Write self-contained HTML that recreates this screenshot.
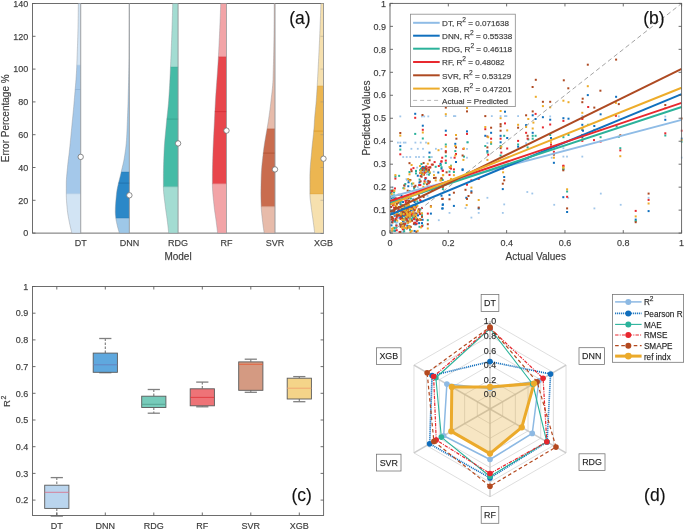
<!DOCTYPE html>
<html><head><meta charset="utf-8"><title>Model comparison figure</title>
<style>html,body{margin:0;padding:0;background:#fff;}svg{display:block;font-family:"Liberation Sans", sans-serif;filter:blur(0.25px);}text{paint-order:stroke;stroke-width:0.25px;stroke:#333;stroke-opacity:0.6;}</style>
</head><body>
<svg width="685" height="529" viewBox="0 0 685 529">
<rect width="685" height="529" fill="#fff"/>
<g id="pa">
<rect x="32.5" y="3.5" width="291.0" height="229.6" fill="none" stroke="#5e5e5e" stroke-width="0.9"/>
<line x1="32.5" y1="233.1" x2="35.5" y2="233.1" stroke="#5e5e5e" stroke-width="0.9"/>
<line x1="323.5" y1="233.1" x2="320.5" y2="233.1" stroke="#5e5e5e" stroke-width="0.9"/>
<text x="28.3" y="236.3" font-size="9.0" text-anchor="end" fill="#3a3a3a" >0</text>
<line x1="32.5" y1="200.3" x2="35.5" y2="200.3" stroke="#5e5e5e" stroke-width="0.9"/>
<line x1="323.5" y1="200.3" x2="320.5" y2="200.3" stroke="#5e5e5e" stroke-width="0.9"/>
<text x="28.3" y="203.5" font-size="9.0" text-anchor="end" fill="#3a3a3a" >20</text>
<line x1="32.5" y1="167.5" x2="35.5" y2="167.5" stroke="#5e5e5e" stroke-width="0.9"/>
<line x1="323.5" y1="167.5" x2="320.5" y2="167.5" stroke="#5e5e5e" stroke-width="0.9"/>
<text x="28.3" y="170.7" font-size="9.0" text-anchor="end" fill="#3a3a3a" >40</text>
<line x1="32.5" y1="134.7" x2="35.5" y2="134.7" stroke="#5e5e5e" stroke-width="0.9"/>
<line x1="323.5" y1="134.7" x2="320.5" y2="134.7" stroke="#5e5e5e" stroke-width="0.9"/>
<text x="28.3" y="137.9" font-size="9.0" text-anchor="end" fill="#3a3a3a" >60</text>
<line x1="32.5" y1="101.9" x2="35.5" y2="101.9" stroke="#5e5e5e" stroke-width="0.9"/>
<line x1="323.5" y1="101.9" x2="320.5" y2="101.9" stroke="#5e5e5e" stroke-width="0.9"/>
<text x="28.3" y="105.1" font-size="9.0" text-anchor="end" fill="#3a3a3a" >80</text>
<line x1="32.5" y1="69.1" x2="35.5" y2="69.1" stroke="#5e5e5e" stroke-width="0.9"/>
<line x1="323.5" y1="69.1" x2="320.5" y2="69.1" stroke="#5e5e5e" stroke-width="0.9"/>
<text x="28.3" y="72.3" font-size="9.0" text-anchor="end" fill="#3a3a3a" >100</text>
<line x1="32.5" y1="36.3" x2="35.5" y2="36.3" stroke="#5e5e5e" stroke-width="0.9"/>
<line x1="323.5" y1="36.3" x2="320.5" y2="36.3" stroke="#5e5e5e" stroke-width="0.9"/>
<text x="28.3" y="39.5" font-size="9.0" text-anchor="end" fill="#3a3a3a" >120</text>
<line x1="32.5" y1="3.5" x2="35.5" y2="3.5" stroke="#5e5e5e" stroke-width="0.9"/>
<line x1="323.5" y1="3.5" x2="320.5" y2="3.5" stroke="#5e5e5e" stroke-width="0.9"/>
<text x="28.3" y="6.7" font-size="9.0" text-anchor="end" fill="#3a3a3a" >140</text>
<polygon points="80.7,3.5 78.3,3.5 78.3,4.97 78.3,6.44 78.29,7.91 78.28,9.38 78.27,10.85 78.26,12.31 78.24,13.78 78.23,15.25 78.21,16.72 78.19,18.19 78.16,19.66 78.14,21.13 78.11,22.6 78.09,24.07 78.06,25.54 78.02,27 77.99,28.47 77.96,29.94 77.92,31.41 77.88,32.88 77.84,34.35 77.8,35.82 77.76,37.29 77.72,38.76 77.68,40.23 77.63,41.7 77.58,43.16 77.54,44.63 77.49,46.1 77.44,47.57 77.39,49.04 77.34,50.51 77.29,51.98 77.24,53.45 77.18,54.92 77.13,56.39 77.08,57.85 77.02,59.32 76.97,60.79 76.91,62.26 76.86,63.73 76.8,65.2 80.7,65.2" fill="#D2E4F4" stroke="none"/>
<polygon points="80.7,65.2 76.8,65.2 76.74,66.69 76.67,68.19 76.6,69.68 76.52,71.18 76.43,72.67 76.34,74.17 76.24,75.66 76.14,77.15 76.04,78.65 75.93,80.14 75.82,81.64 75.7,83.13 75.58,84.62 75.46,86.12 75.34,87.61 75.21,89.11 75.09,90.6 74.96,92.1 74.84,93.59 74.71,95.08 74.58,96.58 74.46,98.07 74.34,99.57 74.21,101.06 74.08,102.55 73.95,104.05 73.82,105.54 73.68,107.04 73.55,108.53 73.41,110.03 73.26,111.52 73.12,113.01 72.97,114.51 72.83,116 72.68,117.5 72.53,118.99 72.39,120.48 72.24,121.98 72.1,123.47 71.95,124.97 71.81,126.46 71.67,127.96 71.52,129.45 71.38,130.94 71.24,132.44 71.1,133.93 70.96,135.43 70.81,136.92 70.67,138.42 70.53,139.91 70.38,141.4 70.23,142.9 70.08,144.39 69.93,145.89 69.78,147.38 69.63,148.87 69.47,150.37 69.31,151.86 69.13,153.36 68.95,154.85 68.76,156.35 68.58,157.84 68.39,159.33 68.2,160.83 68.03,162.32 67.86,163.82 67.7,165.31 67.56,166.8 67.42,168.3 67.28,169.79 67.13,171.29 66.98,172.78 66.84,174.28 66.71,175.77 66.59,177.26 66.49,178.76 66.4,180.25 66.34,181.75 66.31,183.24 66.3,184.73 66.3,186.23 66.3,187.72 66.3,189.22 66.3,190.71 66.3,192.21 66.3,193.7 80.7,193.7" fill="#A4C8EA" stroke="none"/>
<polygon points="80.7,193.7 66.3,193.7 66.3,195.16 66.33,196.62 66.38,198.08 66.45,199.54 66.54,201 66.64,202.46 66.76,203.91 66.89,205.37 67.02,206.83 67.16,208.29 67.3,209.75 67.45,211.21 67.64,212.67 67.85,214.13 68.09,215.59 68.35,217.05 68.62,218.51 68.9,219.97 69.19,221.43 69.48,222.89 69.78,224.34 70.09,225.8 70.43,227.26 70.78,228.72 71.14,230.18 71.51,231.64 71.9,233.1 80.7,233.1" fill="#D2E4F4" stroke="none"/>
<polygon points="80.7,3.5 78.3,3.5 78.3,4.99 78.3,6.48 78.29,7.97 78.28,9.46 78.27,10.95 78.26,12.45 78.24,13.94 78.22,15.43 78.2,16.92 78.18,18.41 78.16,19.9 78.14,21.39 78.11,22.88 78.08,24.37 78.05,25.86 78.02,27.35 77.98,28.85 77.95,30.34 77.91,31.83 77.87,33.32 77.83,34.81 77.79,36.3 77.75,37.79 77.7,39.28 77.66,40.77 77.61,42.26 77.57,43.75 77.52,45.25 77.47,46.74 77.42,48.23 77.37,49.72 77.31,51.21 77.26,52.7 77.21,54.19 77.16,55.68 77.1,57.17 77.05,58.66 76.99,60.15 76.93,61.65 76.88,63.14 76.82,64.63 76.76,66.12 76.7,67.61 76.63,69.1 76.55,70.59 76.47,72.08 76.38,73.57 76.28,75.06 76.18,76.55 76.08,78.05 75.97,79.54 75.86,81.03 75.75,82.52 75.63,84.01 75.51,85.5 75.39,86.99 75.27,88.48 75.14,89.97 75.02,91.46 74.89,92.95 74.76,94.45 74.64,95.94 74.51,97.43 74.39,98.92 74.27,100.41 74.14,101.9 74.01,103.39 73.88,104.88 73.75,106.37 73.61,107.86 73.47,109.35 73.33,110.85 73.18,112.34 73.04,113.83 72.89,115.32 72.75,116.81 72.6,118.3 72.46,119.79 72.31,121.28 72.16,122.77 72.02,124.26 71.88,125.75 71.73,127.25 71.59,128.74 71.45,130.23 71.31,131.72 71.17,133.21 71.03,134.7 70.88,136.19 70.74,137.68 70.6,139.17 70.45,140.66 70.31,142.15 70.16,143.65 70.01,145.14 69.86,146.63 69.7,148.12 69.55,149.61 69.39,151.1 69.22,152.59 69.05,154.08 68.86,155.57 68.67,157.06 68.49,158.55 68.3,160.05 68.12,161.54 67.95,163.03 67.78,164.52 67.64,166.01 67.5,167.5 67.35,168.99 67.21,170.48 67.06,171.97 66.92,173.46 66.78,174.95 66.65,176.45 66.54,177.94 66.45,179.43 66.37,180.92 66.32,182.41 66.3,183.9 66.3,185.39 66.3,186.88 66.3,188.37 66.3,189.86 66.3,191.35 66.3,192.85 66.3,194.34 66.31,195.83 66.35,197.32 66.41,198.81 66.49,200.3 66.59,201.79 66.71,203.28 66.83,204.77 66.97,206.26 67.11,207.75 67.25,209.25 67.4,210.74 67.58,212.23 67.79,213.72 68.03,215.21 68.29,216.7 68.56,218.19 68.85,219.68 69.14,221.17 69.43,222.66 69.74,224.15 70.06,225.65 70.4,227.14 70.75,228.63 71.12,230.12 71.51,231.61 71.9,233.1 80.7,233.1" fill="none" stroke="#8a8f96" stroke-width="0.6" stroke-opacity="0.7"/>
<line x1="76.8" y1="65.2" x2="80.7" y2="65.2" stroke="#8FB3D6" stroke-width="0.6" stroke-opacity="0.6"/>
<line x1="66.3" y1="193.7" x2="80.7" y2="193.7" stroke="#8FB3D6" stroke-width="0.6" stroke-opacity="0.6"/>
<line x1="75.18" y1="89.5" x2="80.7" y2="89.5" stroke="#8FB3D6" stroke-width="0.8"/>
<line x1="80.7" y1="3.5" x2="80.7" y2="233.1" stroke="#9a9a9a" stroke-width="0.65"/>
<polygon points="129.4,3.5 129.2,3.5 129.2,4.99 129.2,6.48 129.2,7.97 129.2,9.46 129.19,10.96 129.19,12.45 129.19,13.94 129.19,15.43 129.18,16.92 129.18,18.41 129.18,19.9 129.17,21.39 129.17,22.88 129.16,24.38 129.16,25.87 129.15,27.36 129.15,28.85 129.14,30.34 129.13,31.83 129.13,33.32 129.12,34.81 129.11,36.31 129.11,37.8 129.1,39.29 129.09,40.78 129.08,42.27 129.07,43.76 129.07,45.25 129.06,46.74 129.05,48.23 129.04,49.73 129.03,51.22 129.02,52.71 129.01,54.2 129,55.69 128.99,57.18 128.98,58.67 128.96,60.16 128.95,61.65 128.93,63.15 128.91,64.64 128.89,66.13 128.86,67.62 128.84,69.11 128.81,70.6 128.78,72.09 128.75,73.58 128.72,75.08 128.69,76.57 128.66,78.06 128.63,79.55 128.59,81.04 128.56,82.53 128.52,84.02 128.48,85.51 128.44,87 128.41,88.5 128.37,89.99 128.33,91.48 128.29,92.97 128.25,94.46 128.21,95.95 128.17,97.44 128.13,98.93 128.09,100.42 128.05,101.92 128,103.41 127.96,104.9 127.91,106.39 127.86,107.88 127.8,109.37 127.75,110.86 127.7,112.35 127.64,113.85 127.58,115.34 127.52,116.83 127.47,118.32 127.41,119.81 127.35,121.3 127.29,122.79 127.24,124.28 127.18,125.77 127.13,127.27 127.07,128.76 127.01,130.25 126.94,131.74 126.88,133.23 126.8,134.72 126.73,136.21 126.64,137.7 126.55,139.19 126.45,140.69 126.34,142.18 126.2,143.67 126.06,145.16 125.89,146.65 125.72,148.14 125.53,149.63 125.33,151.12 125.12,152.62 124.9,154.11 124.68,155.6 124.44,157.09 124.2,158.58 123.93,160.07 123.63,161.56 123.31,163.05 122.96,164.54 122.6,166.04 122.24,167.53 121.89,169.02 121.54,170.51 121.2,172 129.4,172" fill="#9EC8E8" stroke="none"/>
<polygon points="129.4,172 121.2,172 120.87,173.49 120.51,174.97 120.15,176.46 119.78,177.95 119.4,179.44 119.03,180.92 118.66,182.41 118.3,183.9 117.96,185.38 117.63,186.87 117.33,188.36 117.06,189.85 116.82,191.33 116.62,192.82 116.46,194.31 116.31,195.79 116.17,197.28 116.03,198.77 115.89,200.25 115.77,201.74 115.65,203.23 115.55,204.72 115.46,206.2 115.39,207.69 115.34,209.18 115.31,210.66 115.3,212.15 115.36,213.64 115.48,215.13 115.64,216.61 115.81,218.1 129.4,218.1" fill="#2B88C8" stroke="none"/>
<polygon points="129.4,218.1 115.81,218.1 116,219.46 116.24,220.83 116.52,222.19 116.81,223.55 117.12,224.92 117.44,226.28 117.79,227.65 118.16,229.01 118.55,230.37 118.96,231.74 119.4,233.1 129.4,233.1" fill="#9EC8E8" stroke="none"/>
<polygon points="129.4,3.5 129.2,3.5 129.2,4.99 129.2,6.48 129.2,7.97 129.2,9.46 129.2,10.95 129.19,12.45 129.19,13.94 129.19,15.43 129.18,16.92 129.18,18.41 129.18,19.9 129.17,21.39 129.17,22.88 129.16,24.37 129.16,25.86 129.15,27.35 129.15,28.85 129.14,30.34 129.13,31.83 129.13,33.32 129.12,34.81 129.11,36.3 129.11,37.79 129.1,39.28 129.09,40.77 129.08,42.26 129.07,43.75 129.07,45.25 129.06,46.74 129.05,48.23 129.04,49.72 129.03,51.21 129.02,52.7 129.01,54.19 129,55.68 128.99,57.17 128.98,58.66 128.96,60.15 128.95,61.65 128.93,63.14 128.91,64.63 128.89,66.12 128.86,67.61 128.84,69.1 128.81,70.59 128.78,72.08 128.75,73.57 128.72,75.06 128.69,76.55 128.66,78.05 128.63,79.54 128.59,81.03 128.56,82.52 128.52,84.01 128.48,85.5 128.44,86.99 128.41,88.48 128.37,89.97 128.33,91.46 128.29,92.95 128.25,94.45 128.21,95.94 128.17,97.43 128.13,98.92 128.09,100.41 128.05,101.9 128,103.39 127.96,104.88 127.91,106.37 127.86,107.86 127.8,109.35 127.75,110.85 127.7,112.34 127.64,113.83 127.58,115.32 127.53,116.81 127.47,118.3 127.41,119.79 127.35,121.28 127.29,122.77 127.24,124.26 127.18,125.75 127.13,127.25 127.07,128.74 127.01,130.23 126.94,131.72 126.88,133.21 126.81,134.7 126.73,136.19 126.64,137.68 126.55,139.17 126.45,140.66 126.34,142.15 126.21,143.65 126.06,145.14 125.9,146.63 125.72,148.12 125.53,149.61 125.33,151.1 125.12,152.59 124.91,154.08 124.68,155.57 124.45,157.06 124.21,158.55 123.94,160.05 123.64,161.54 123.31,163.03 122.97,164.52 122.61,166.01 122.25,167.5 121.89,168.99 121.54,170.48 121.21,171.97 120.87,173.46 120.52,174.95 120.15,176.45 119.78,177.94 119.4,179.43 119.03,180.92 118.66,182.41 118.3,183.9 117.95,185.39 117.63,186.88 117.33,188.37 117.06,189.86 116.82,191.35 116.62,192.85 116.46,194.34 116.31,195.83 116.16,197.32 116.02,198.81 115.89,200.3 115.76,201.79 115.65,203.28 115.54,204.77 115.46,206.26 115.39,207.75 115.34,209.25 115.31,210.74 115.3,212.23 115.36,213.72 115.49,215.21 115.65,216.7 115.82,218.19 116.04,219.68 116.31,221.17 116.62,222.66 116.95,224.15 117.29,225.65 117.65,227.14 118.05,228.63 118.48,230.12 118.93,231.61 119.4,233.1 129.4,233.1" fill="none" stroke="#8a8f96" stroke-width="0.6" stroke-opacity="0.7"/>
<line x1="121.2" y1="172" x2="129.4" y2="172" stroke="#1F6FA8" stroke-width="0.6" stroke-opacity="0.6"/>
<line x1="115.81" y1="218.1" x2="129.4" y2="218.1" stroke="#1F6FA8" stroke-width="0.6" stroke-opacity="0.6"/>
<line x1="118.49" y1="183.1" x2="129.4" y2="183.1" stroke="#1F6FA8" stroke-width="0.8"/>
<line x1="129.4" y1="3.5" x2="129.4" y2="233.1" stroke="#9a9a9a" stroke-width="0.65"/>
<polygon points="178.1,3.5 172.7,3.5 172.67,4.98 172.63,6.45 172.6,7.93 172.56,9.41 172.53,10.88 172.49,12.36 172.45,13.84 172.41,15.31 172.37,16.79 172.33,18.27 172.28,19.74 172.24,21.22 172.19,22.7 172.15,24.17 172.1,25.65 172.05,27.13 172,28.6 171.95,30.08 171.9,31.56 171.85,33.03 171.8,34.51 171.75,35.99 171.69,37.47 171.64,38.94 171.58,40.42 171.53,41.9 171.47,43.37 171.42,44.85 171.36,46.33 171.3,47.8 171.24,49.28 171.18,50.76 171.12,52.23 171.06,53.71 171,55.19 170.94,56.66 170.88,58.14 170.82,59.62 170.75,61.09 170.69,62.57 170.63,64.05 170.56,65.52 170.5,67 178.1,67" fill="#A3DCD2" stroke="none"/>
<polygon points="178.1,67 170.5,67 170.43,68.5 170.37,69.99 170.3,71.49 170.23,72.98 170.16,74.48 170.09,75.98 170.02,77.47 169.95,78.97 169.87,80.47 169.79,81.96 169.72,83.46 169.64,84.95 169.55,86.45 169.47,87.95 169.38,89.44 169.29,90.94 169.2,92.44 169.11,93.93 169.01,95.43 168.91,96.92 168.81,98.42 168.71,99.92 168.59,101.41 168.47,102.91 168.34,104.41 168.21,105.9 168.06,107.4 167.91,108.89 167.76,110.39 167.6,111.89 167.44,113.38 167.28,114.88 167.12,116.38 166.96,117.87 166.8,119.37 166.65,120.86 166.5,122.36 166.35,123.86 166.21,125.35 166.08,126.85 165.94,128.35 165.8,129.84 165.65,131.34 165.51,132.83 165.36,134.33 165.22,135.83 165.08,137.32 164.94,138.82 164.81,140.32 164.69,141.81 164.57,143.31 164.46,144.81 164.35,146.3 164.26,147.8 164.18,149.29 164.11,150.79 164.05,152.29 163.99,153.78 163.93,155.28 163.87,156.77 163.81,158.27 163.75,159.77 163.7,161.26 163.65,162.76 163.6,164.26 163.56,165.75 163.52,167.25 163.49,168.75 163.46,170.24 163.43,171.74 163.42,173.23 163.4,174.73 163.4,176.23 163.4,177.72 163.4,179.22 163.4,180.71 163.4,182.21 163.4,183.71 163.4,185.2 163.4,186.7 178.1,186.7" fill="#45BBA6" stroke="none"/>
<polygon points="178.1,186.7 163.4,186.7 163.42,188.2 163.47,189.69 163.56,191.19 163.67,192.69 163.81,194.18 163.97,195.68 164.14,197.18 164.33,198.67 164.52,200.17 164.72,201.67 164.92,203.16 165.11,204.66 165.3,206.16 165.48,207.65 165.67,209.15 165.87,210.65 166.09,212.15 166.31,213.64 166.53,215.14 166.74,216.64 166.95,218.13 167.15,219.63 167.34,221.13 167.52,222.62 167.7,224.12 167.88,225.62 168.05,227.11 168.22,228.61 168.38,230.11 168.54,231.6 168.7,233.1 178.1,233.1" fill="#A3DCD2" stroke="none"/>
<polygon points="178.1,3.5 172.7,3.5 172.67,4.99 172.63,6.48 172.6,7.97 172.56,9.46 172.52,10.95 172.49,12.45 172.45,13.94 172.41,15.43 172.36,16.92 172.32,18.41 172.28,19.9 172.23,21.39 172.19,22.88 172.14,24.37 172.09,25.86 172.04,27.35 171.99,28.85 171.94,30.34 171.89,31.83 171.84,33.32 171.79,34.81 171.74,36.3 171.68,37.79 171.63,39.28 171.57,40.77 171.51,42.26 171.46,43.75 171.4,45.25 171.34,46.74 171.28,48.23 171.22,49.72 171.16,51.21 171.1,52.7 171.04,54.19 170.98,55.68 170.92,57.17 170.86,58.66 170.79,60.15 170.73,61.65 170.67,63.14 170.6,64.63 170.54,66.12 170.47,67.61 170.41,69.1 170.34,70.59 170.27,72.08 170.21,73.57 170.14,75.06 170.06,76.55 169.99,78.05 169.92,79.54 169.84,81.03 169.77,82.52 169.69,84.01 169.61,85.5 169.52,86.99 169.44,88.48 169.35,89.97 169.26,91.46 169.17,92.95 169.07,94.45 168.98,95.94 168.88,97.43 168.78,98.92 168.67,100.41 168.56,101.9 168.43,103.39 168.3,104.88 168.16,106.37 168.02,107.86 167.87,109.35 167.71,110.85 167.55,112.34 167.39,113.83 167.23,115.32 167.07,116.81 166.91,118.3 166.76,119.79 166.6,121.28 166.46,122.77 166.31,124.26 166.18,125.75 166.04,127.25 165.9,128.74 165.76,130.23 165.62,131.72 165.47,133.21 165.33,134.7 165.19,136.19 165.05,137.68 164.91,139.17 164.78,140.66 164.66,142.15 164.54,143.65 164.43,145.14 164.33,146.63 164.24,148.12 164.16,149.61 164.1,151.1 164.03,152.59 163.97,154.08 163.91,155.57 163.86,157.06 163.8,158.55 163.74,160.05 163.69,161.54 163.64,163.03 163.6,164.52 163.55,166.01 163.52,167.5 163.48,168.99 163.45,170.48 163.43,171.97 163.41,173.46 163.4,174.95 163.4,176.45 163.4,177.94 163.4,179.43 163.4,180.92 163.4,182.41 163.4,183.9 163.4,185.39 163.4,186.88 163.42,188.37 163.48,189.86 163.57,191.35 163.69,192.85 163.83,194.34 163.99,195.83 164.16,197.32 164.35,198.81 164.54,200.3 164.74,201.79 164.93,203.28 165.13,204.77 165.31,206.26 165.49,207.75 165.68,209.25 165.89,210.74 166.1,212.23 166.32,213.72 166.54,215.21 166.75,216.7 166.96,218.19 167.16,219.68 167.35,221.17 167.53,222.66 167.71,224.15 167.88,225.65 168.05,227.14 168.22,228.63 168.39,230.12 168.54,231.61 168.7,233.1 178.1,233.1" fill="none" stroke="#8a8f96" stroke-width="0.6" stroke-opacity="0.7"/>
<line x1="170.5" y1="67" x2="178.1" y2="67" stroke="#36A08C" stroke-width="0.6" stroke-opacity="0.6"/>
<line x1="163.4" y1="186.7" x2="178.1" y2="186.7" stroke="#36A08C" stroke-width="0.6" stroke-opacity="0.6"/>
<line x1="166.83" y1="119.1" x2="178.1" y2="119.1" stroke="#36A08C" stroke-width="0.8"/>
<line x1="178.1" y1="3.5" x2="178.1" y2="233.1" stroke="#9a9a9a" stroke-width="0.65"/>
<polygon points="226.5,3.5 220.7,3.5 220.66,4.98 220.61,6.46 220.56,7.94 220.51,9.42 220.46,10.9 220.41,12.38 220.36,13.86 220.3,15.34 220.25,16.82 220.19,18.31 220.14,19.79 220.08,21.27 220.02,22.75 219.96,24.23 219.89,25.71 219.83,27.19 219.77,28.67 219.7,30.15 219.64,31.63 219.57,33.11 219.5,34.59 219.44,36.07 219.37,37.55 219.3,39.03 219.23,40.51 219.15,41.99 219.08,43.47 219.01,44.96 218.93,46.44 218.86,47.92 218.78,49.4 218.71,50.88 218.63,52.36 218.56,53.84 218.48,55.32 218.4,56.8 226.5,56.8" fill="#F2A4A7" stroke="none"/>
<polygon points="226.5,56.8 218.4,56.8 218.32,58.29 218.23,59.79 218.15,61.28 218.06,62.77 217.96,64.26 217.86,65.76 217.76,67.25 217.66,68.74 217.56,70.24 217.46,71.73 217.35,73.22 217.24,74.72 217.13,76.21 217.02,77.7 216.92,79.19 216.81,80.69 216.7,82.18 216.59,83.67 216.48,85.17 216.37,86.66 216.27,88.15 216.16,89.64 216.06,91.14 215.96,92.63 215.86,94.12 215.77,95.62 215.67,97.11 215.58,98.6 215.49,100.1 215.41,101.59 215.33,103.08 215.25,104.57 215.17,106.07 215.09,107.56 215.01,109.05 214.93,110.55 214.86,112.04 214.78,113.53 214.71,115.02 214.64,116.52 214.56,118.01 214.49,119.5 214.42,121 214.35,122.49 214.27,123.98 214.2,125.48 214.13,126.97 214.05,128.46 213.97,129.95 213.9,131.45 213.82,132.94 213.74,134.43 213.66,135.93 213.59,137.42 213.51,138.91 213.44,140.4 213.37,141.9 213.3,143.39 213.23,144.88 213.17,146.38 213.11,147.87 213.05,149.36 213,150.86 212.96,152.35 212.91,153.84 212.86,155.33 212.81,156.83 212.76,158.32 212.72,159.81 212.67,161.31 212.63,162.8 212.59,164.29 212.55,165.78 212.51,167.28 212.48,168.77 212.45,170.26 212.43,171.76 212.42,173.25 212.4,174.74 212.4,176.24 212.4,177.73 212.4,179.22 212.4,180.71 212.4,182.21 212.4,183.7 226.5,183.7" fill="#E8464C" stroke="none"/>
<polygon points="226.5,183.7 212.4,183.7 212.41,185.2 212.45,186.69 212.5,188.19 212.58,189.69 212.67,191.18 212.78,192.68 212.9,194.18 213.03,195.68 213.17,197.17 213.32,198.67 213.48,200.17 213.64,201.66 213.8,203.16 213.96,204.66 214.11,206.15 214.27,207.65 214.45,209.15 214.64,210.65 214.85,212.14 215.08,213.64 215.3,215.14 215.53,216.63 215.74,218.13 215.95,219.63 216.15,221.12 216.34,222.62 216.53,224.12 216.71,225.62 216.89,227.11 217.08,228.61 217.25,230.11 217.43,231.6 217.6,233.1 226.5,233.1" fill="#F2A4A7" stroke="none"/>
<polygon points="226.5,3.5 220.7,3.5 220.65,4.99 220.61,6.48 220.56,7.97 220.51,9.46 220.46,10.95 220.41,12.45 220.36,13.94 220.3,15.43 220.25,16.92 220.19,18.41 220.13,19.9 220.07,21.39 220.01,22.88 219.95,24.37 219.89,25.86 219.82,27.35 219.76,28.85 219.7,30.34 219.63,31.83 219.56,33.32 219.49,34.81 219.42,36.3 219.36,37.79 219.28,39.28 219.21,40.77 219.14,42.26 219.07,43.75 218.99,45.25 218.92,46.74 218.84,48.23 218.77,49.72 218.69,51.21 218.61,52.7 218.54,54.19 218.46,55.68 218.38,57.17 218.3,58.66 218.21,60.15 218.12,61.65 218.03,63.14 217.94,64.63 217.84,66.12 217.74,67.61 217.64,69.1 217.54,70.59 217.43,72.08 217.32,73.57 217.22,75.06 217.11,76.55 217,78.05 216.89,79.54 216.78,81.03 216.67,82.52 216.56,84.01 216.46,85.5 216.35,86.99 216.24,88.48 216.14,89.97 216.04,91.46 215.94,92.95 215.84,94.45 215.74,95.94 215.65,97.43 215.56,98.92 215.48,100.41 215.39,101.9 215.31,103.39 215.23,104.88 215.15,106.37 215.07,107.86 215,109.35 214.92,110.85 214.84,112.34 214.77,113.83 214.7,115.32 214.62,116.81 214.55,118.3 214.48,119.79 214.41,121.28 214.33,122.77 214.26,124.26 214.19,125.75 214.11,127.25 214.04,128.74 213.96,130.23 213.88,131.72 213.8,133.21 213.73,134.7 213.65,136.19 213.57,137.68 213.5,139.17 213.42,140.66 213.35,142.15 213.28,143.65 213.22,145.14 213.16,146.63 213.1,148.12 213.05,149.61 213,151.1 212.95,152.59 212.9,154.08 212.85,155.57 212.8,157.06 212.76,158.55 212.71,160.05 212.66,161.54 212.62,163.03 212.58,164.52 212.54,166.01 212.51,167.5 212.48,168.99 212.45,170.48 212.43,171.97 212.41,173.46 212.4,174.95 212.4,176.45 212.4,177.94 212.4,179.43 212.4,180.92 212.4,182.41 212.4,183.9 212.42,185.39 212.45,186.88 212.51,188.37 212.59,189.86 212.68,191.35 212.79,192.85 212.91,194.34 213.05,195.83 213.19,197.32 213.34,198.81 213.49,200.3 213.65,201.79 213.81,203.28 213.97,204.77 214.12,206.26 214.28,207.75 214.46,209.25 214.65,210.74 214.87,212.23 215.09,213.72 215.31,215.21 215.54,216.7 215.75,218.19 215.96,219.68 216.15,221.17 216.34,222.66 216.53,224.15 216.71,225.65 216.9,227.14 217.08,228.63 217.25,230.12 217.43,231.61 217.6,233.1 226.5,233.1" fill="none" stroke="#8a8f96" stroke-width="0.6" stroke-opacity="0.7"/>
<line x1="218.4" y1="56.8" x2="226.5" y2="56.8" stroke="#D22F36" stroke-width="0.6" stroke-opacity="0.6"/>
<line x1="212.4" y1="183.7" x2="226.5" y2="183.7" stroke="#D22F36" stroke-width="0.6" stroke-opacity="0.6"/>
<line x1="214.88" y1="111.6" x2="226.5" y2="111.6" stroke="#D22F36" stroke-width="0.8"/>
<line x1="226.5" y1="3.5" x2="226.5" y2="233.1" stroke="#9a9a9a" stroke-width="0.65"/>
<polygon points="275,3.5 274.2,3.5 274.2,4.99 274.2,6.48 274.2,7.97 274.19,9.47 274.19,10.96 274.18,12.45 274.18,13.94 274.17,15.43 274.16,16.93 274.15,18.42 274.14,19.91 274.13,21.4 274.12,22.89 274.11,24.38 274.09,25.88 274.08,27.37 274.06,28.86 274.05,30.35 274.03,31.84 274.01,33.33 273.99,34.83 273.97,36.32 273.95,37.81 273.93,39.3 273.91,40.79 273.88,42.28 273.86,43.77 273.83,45.27 273.81,46.76 273.78,48.25 273.75,49.74 273.72,51.23 273.69,52.73 273.66,54.22 273.63,55.71 273.6,57.2 273.56,58.69 273.53,60.18 273.49,61.68 273.46,63.17 273.42,64.66 273.38,66.15 273.34,67.64 273.3,69.13 273.26,70.62 273.22,72.12 273.18,73.61 273.13,75.1 273.09,76.59 273.04,78.08 273,79.58 272.94,81.07 272.86,82.56 272.76,84.05 272.64,85.54 272.51,87.03 272.37,88.53 272.22,90.02 272.06,91.51 271.89,93 271.72,94.49 271.55,95.98 271.38,97.48 271.21,98.97 271.05,100.46 270.88,101.95 270.71,103.44 270.54,104.93 270.35,106.42 270.17,107.92 269.98,109.41 269.78,110.9 269.58,112.39 269.38,113.88 269.17,115.38 268.96,116.87 268.74,118.36 268.52,119.85 268.29,121.34 268.05,122.83 267.79,124.33 267.55,125.82 267.3,127.31 267.05,128.8 275,128.8" fill="#E7BBAA" stroke="none"/>
<polygon points="275,128.8 267.05,128.8 266.79,130.3 266.53,131.79 266.27,133.29 266,134.78 265.74,136.28 265.48,137.78 265.23,139.27 264.97,140.77 264.73,142.27 264.49,143.76 264.27,145.26 264.05,146.75 263.84,148.25 263.65,149.75 263.47,151.24 263.3,152.74 263.12,154.23 262.95,155.73 262.78,157.23 262.61,158.72 262.44,160.22 262.28,161.72 262.12,163.21 261.98,164.71 261.84,166.2 261.71,167.7 261.59,169.2 261.48,170.69 261.39,172.19 261.31,173.68 261.24,175.18 261.2,176.68 261.15,178.17 261.12,179.67 261.08,181.17 261.04,182.66 261.01,184.16 260.98,185.65 260.96,187.15 260.94,188.65 260.92,190.14 260.91,191.64 260.9,193.13 260.9,194.63 260.91,196.13 260.93,197.62 260.96,199.12 261,200.62 261.04,202.11 261.09,203.61 261.14,205.1 261.2,206.6 275,206.6" fill="#C96C4E" stroke="none"/>
<polygon points="275,206.6 261.2,206.6 261.27,208.07 261.36,209.54 261.47,211.02 261.6,212.49 261.75,213.96 261.9,215.43 262.06,216.91 262.22,218.38 262.38,219.85 262.55,221.32 262.72,222.79 262.91,224.27 263.1,225.74 263.31,227.21 263.52,228.68 263.74,230.16 263.97,231.63 264.2,233.1 275,233.1" fill="#E7BBAA" stroke="none"/>
<polygon points="275,3.5 274.2,3.5 274.2,4.99 274.2,6.48 274.2,7.97 274.19,9.46 274.19,10.95 274.18,12.45 274.18,13.94 274.17,15.43 274.16,16.92 274.15,18.41 274.14,19.9 274.13,21.39 274.12,22.88 274.11,24.37 274.09,25.86 274.08,27.35 274.06,28.85 274.05,30.34 274.03,31.83 274.01,33.32 273.99,34.81 273.97,36.3 273.95,37.79 273.93,39.28 273.91,40.77 273.88,42.26 273.86,43.75 273.83,45.25 273.81,46.74 273.78,48.23 273.75,49.72 273.72,51.21 273.69,52.7 273.66,54.19 273.63,55.68 273.6,57.17 273.56,58.66 273.53,60.15 273.49,61.65 273.46,63.14 273.42,64.63 273.38,66.12 273.34,67.61 273.3,69.1 273.26,70.59 273.22,72.08 273.18,73.57 273.13,75.06 273.09,76.55 273.04,78.05 273,79.54 272.94,81.03 272.86,82.52 272.76,84.01 272.65,85.5 272.52,86.99 272.38,88.48 272.22,89.97 272.06,91.46 271.9,92.95 271.73,94.45 271.56,95.94 271.39,97.43 271.22,98.92 271.06,100.41 270.89,101.9 270.72,103.39 270.54,104.88 270.36,106.37 270.17,107.86 269.98,109.35 269.79,110.85 269.59,112.34 269.38,113.83 269.18,115.32 268.96,116.81 268.75,118.3 268.53,119.79 268.3,121.28 268.06,122.77 267.8,124.26 267.56,125.75 267.31,127.25 267.06,128.74 266.8,130.23 266.54,131.72 266.28,133.21 266.02,134.7 265.76,136.19 265.5,137.68 265.24,139.17 264.99,140.66 264.75,142.15 264.51,143.65 264.28,145.14 264.07,146.63 263.86,148.12 263.67,149.61 263.49,151.1 263.32,152.59 263.14,154.08 262.97,155.57 262.79,157.06 262.63,158.55 262.46,160.05 262.3,161.54 262.14,163.03 261.99,164.52 261.85,166.01 261.72,167.5 261.6,168.99 261.5,170.48 261.4,171.97 261.32,173.46 261.25,174.95 261.2,176.45 261.16,177.94 261.12,179.43 261.08,180.92 261.05,182.41 261.02,183.9 260.99,185.39 260.96,186.88 260.94,188.37 260.92,189.86 260.91,191.35 260.9,192.85 260.9,194.34 260.91,195.83 260.93,197.32 260.96,198.81 260.99,200.3 261.03,201.79 261.08,203.28 261.13,204.77 261.19,206.26 261.25,207.75 261.34,209.25 261.45,210.74 261.58,212.23 261.72,213.72 261.88,215.21 262.04,216.7 262.2,218.19 262.37,219.68 262.53,221.17 262.71,222.66 262.89,224.15 263.09,225.65 263.3,227.14 263.51,228.63 263.73,230.12 263.96,231.61 264.2,233.1 275,233.1" fill="none" stroke="#8a8f96" stroke-width="0.6" stroke-opacity="0.7"/>
<line x1="267.05" y1="128.8" x2="275" y2="128.8" stroke="#B0502F" stroke-width="0.6" stroke-opacity="0.6"/>
<line x1="261.2" y1="206.6" x2="275" y2="206.6" stroke="#B0502F" stroke-width="0.6" stroke-opacity="0.6"/>
<line x1="263.26" y1="153.1" x2="275" y2="153.1" stroke="#B0502F" stroke-width="0.8"/>
<line x1="275" y1="3.5" x2="275" y2="233.1" stroke="#9a9a9a" stroke-width="0.65"/>
<polygon points="323.5,3.5 320.9,3.5 320.86,5 320.81,6.5 320.77,7.99 320.72,9.49 320.67,10.99 320.62,12.49 320.57,13.99 320.52,15.49 320.47,16.98 320.41,18.48 320.36,19.98 320.3,21.48 320.24,22.98 320.19,24.47 320.13,25.97 320.07,27.47 320.01,28.97 319.95,30.47 319.88,31.97 319.82,33.46 319.76,34.96 319.69,36.46 319.63,37.96 319.56,39.46 319.49,40.95 319.42,42.45 319.35,43.95 319.29,45.45 319.22,46.95 319.14,48.45 319.07,49.94 319,51.44 318.93,52.94 318.85,54.44 318.78,55.94 318.71,57.43 318.63,58.93 318.55,60.43 318.48,61.93 318.4,63.43 318.32,64.93 318.25,66.42 318.17,67.92 318.09,69.42 318.01,70.92 317.93,72.42 317.85,73.91 317.77,75.41 317.69,76.91 317.61,78.41 317.53,79.91 317.45,81.41 317.36,82.9 317.28,84.4 317.2,85.9 323.5,85.9" fill="#F6E0AE" stroke="none"/>
<polygon points="323.5,85.9 317.2,85.9 317.12,87.38 317.03,88.86 316.94,90.34 316.85,91.82 316.76,93.3 316.67,94.78 316.57,96.26 316.46,97.74 316.36,99.22 316.25,100.69 316.13,102.17 316,103.65 315.86,105.13 315.72,106.61 315.57,108.09 315.42,109.57 315.27,111.05 315.13,112.53 314.99,114.01 314.85,115.49 314.72,116.97 314.61,118.45 314.5,119.93 314.42,121.41 314.34,122.89 314.27,124.37 314.18,125.85 314.07,127.32 313.95,128.8 313.82,130.28 313.68,131.76 313.53,133.24 313.38,134.72 313.22,136.2 313.06,137.68 312.9,139.16 312.74,140.64 312.57,142.12 312.41,143.6 312.26,145.08 312.11,146.56 311.96,148.04 311.83,149.52 311.7,151 311.58,152.48 311.44,153.95 311.31,155.43 311.17,156.91 311.03,158.39 310.89,159.87 310.75,161.35 310.62,162.83 310.49,164.31 310.37,165.79 310.26,167.27 310.16,168.75 310.08,170.23 310.01,171.71 309.95,173.19 309.92,174.67 309.9,176.15 309.9,177.63 309.9,179.11 309.9,180.58 309.9,182.06 309.9,183.54 309.9,185.02 309.9,186.5 309.9,187.98 309.9,189.46 309.9,190.94 309.9,192.42 309.9,193.9 323.5,193.9" fill="#ECB651" stroke="none"/>
<polygon points="323.5,193.9 309.9,193.9 309.93,195.35 310.01,196.8 310.12,198.26 310.27,199.71 310.45,201.16 310.64,202.61 310.83,204.06 311.02,205.51 311.2,206.97 311.37,208.42 311.56,209.87 311.76,211.32 311.97,212.77 312.18,214.23 312.39,215.68 312.6,217.13 312.81,218.58 313,220.03 313.2,221.49 313.39,222.94 313.58,224.39 313.77,225.84 313.96,227.29 314.15,228.74 314.33,230.2 314.52,231.65 314.7,233.1 323.5,233.1" fill="#F6E0AE" stroke="none"/>
<polygon points="323.5,3.5 320.9,3.5 320.86,4.99 320.81,6.48 320.77,7.97 320.72,9.46 320.67,10.95 320.62,12.45 320.57,13.94 320.52,15.43 320.47,16.92 320.41,18.41 320.36,19.9 320.3,21.39 320.25,22.88 320.19,24.37 320.13,25.86 320.07,27.35 320.01,28.85 319.95,30.34 319.89,31.83 319.83,33.32 319.76,34.81 319.7,36.3 319.63,37.79 319.57,39.28 319.5,40.77 319.43,42.26 319.36,43.75 319.29,45.25 319.23,46.74 319.15,48.23 319.08,49.72 319.01,51.21 318.94,52.7 318.87,54.19 318.79,55.68 318.72,57.17 318.64,58.66 318.57,60.15 318.49,61.65 318.42,63.14 318.34,64.63 318.26,66.12 318.18,67.61 318.11,69.1 318.03,70.59 317.95,72.08 317.87,73.57 317.79,75.06 317.71,76.55 317.63,78.05 317.55,79.54 317.47,81.03 317.39,82.52 317.3,84.01 317.22,85.5 317.14,86.99 317.05,88.48 316.97,89.97 316.88,91.46 316.78,92.95 316.69,94.45 316.59,95.94 316.49,97.43 316.38,98.92 316.27,100.41 316.15,101.9 316.02,103.39 315.88,104.88 315.74,106.37 315.59,107.86 315.44,109.35 315.29,110.85 315.15,112.34 315,113.83 314.87,115.32 314.74,116.81 314.62,118.3 314.51,119.79 314.42,121.28 314.35,122.77 314.27,124.26 314.18,125.75 314.08,127.25 313.96,128.74 313.83,130.23 313.69,131.72 313.54,133.21 313.38,134.7 313.23,136.19 313.06,137.68 312.9,139.17 312.73,140.66 312.57,142.15 312.41,143.65 312.25,145.14 312.1,146.63 311.96,148.12 311.82,149.61 311.69,151.1 311.57,152.59 311.43,154.08 311.29,155.57 311.15,157.06 311.01,158.55 310.87,160.05 310.73,161.54 310.6,163.03 310.47,164.52 310.35,166.01 310.25,167.5 310.15,168.99 310.06,170.48 310,171.97 309.94,173.46 309.91,174.95 309.9,176.45 309.9,177.94 309.9,179.43 309.9,180.92 309.9,182.41 309.9,183.9 309.9,185.39 309.9,186.88 309.9,188.37 309.9,189.86 309.9,191.35 309.9,192.85 309.9,194.34 309.95,195.83 310.04,197.32 310.18,198.81 310.34,200.3 310.53,201.79 310.72,203.28 310.92,204.77 311.11,206.26 311.29,207.75 311.48,209.25 311.68,210.74 311.89,212.23 312.1,213.72 312.32,215.21 312.54,216.7 312.75,218.19 312.96,219.68 313.16,221.17 313.35,222.66 313.55,224.15 313.75,225.65 313.94,227.14 314.13,228.63 314.32,230.12 314.51,231.61 314.7,233.1 323.5,233.1" fill="none" stroke="#8a8f96" stroke-width="0.6" stroke-opacity="0.7"/>
<line x1="317.2" y1="85.9" x2="323.5" y2="85.9" stroke="#D99A2A" stroke-width="0.6" stroke-opacity="0.6"/>
<line x1="309.9" y1="193.9" x2="323.5" y2="193.9" stroke="#D99A2A" stroke-width="0.6" stroke-opacity="0.6"/>
<line x1="313.74" y1="131.1" x2="323.5" y2="131.1" stroke="#D99A2A" stroke-width="0.8"/>
<line x1="323.5" y1="3.5" x2="323.5" y2="233.1" stroke="#9a9a9a" stroke-width="0.65"/>
<line x1="323.5" y1="200.3" x2="320.5" y2="200.3" stroke="#828282" stroke-width="0.8" stroke-opacity="0.45"/>
<line x1="323.5" y1="167.5" x2="320.5" y2="167.5" stroke="#828282" stroke-width="0.8" stroke-opacity="0.45"/>
<line x1="323.5" y1="134.7" x2="320.5" y2="134.7" stroke="#828282" stroke-width="0.8" stroke-opacity="0.45"/>
<line x1="323.5" y1="101.9" x2="320.5" y2="101.9" stroke="#828282" stroke-width="0.8" stroke-opacity="0.45"/>
<line x1="323.5" y1="69.1" x2="320.5" y2="69.1" stroke="#828282" stroke-width="0.8" stroke-opacity="0.45"/>
<line x1="323.5" y1="36.3" x2="320.5" y2="36.3" stroke="#828282" stroke-width="0.8" stroke-opacity="0.45"/>
<circle cx="80.7" cy="156.9" r="2.7" fill="#fff" stroke="#707070" stroke-width="0.8"/>
<circle cx="129.4" cy="195.3" r="2.7" fill="#fff" stroke="#707070" stroke-width="0.8"/>
<circle cx="178.1" cy="143.4" r="2.7" fill="#fff" stroke="#707070" stroke-width="0.8"/>
<circle cx="226.5" cy="130.6" r="2.7" fill="#fff" stroke="#707070" stroke-width="0.8"/>
<circle cx="275" cy="169.4" r="2.7" fill="#fff" stroke="#707070" stroke-width="0.8"/>
<circle cx="323.5" cy="158.7" r="2.7" fill="#fff" stroke="#707070" stroke-width="0.8"/>
<text x="80.7" y="245.8" font-size="9.0" text-anchor="middle" fill="#3a3a3a" >DT</text>
<text x="129.4" y="245.8" font-size="9.0" text-anchor="middle" fill="#3a3a3a" >DNN</text>
<text x="178.1" y="245.8" font-size="9.0" text-anchor="middle" fill="#3a3a3a" >RDG</text>
<text x="226.5" y="245.8" font-size="9.0" text-anchor="middle" fill="#3a3a3a" >RF</text>
<text x="275" y="245.8" font-size="9.0" text-anchor="middle" fill="#3a3a3a" >SVR</text>
<text x="323.5" y="245.8" font-size="9.0" text-anchor="middle" fill="#3a3a3a" >XGB</text>
<text x="178" y="259.7" font-size="10" text-anchor="middle" fill="#3a3a3a" >Model</text>
<text transform="translate(8.7,118.3) rotate(-90)" font-size="10" text-anchor="middle" fill="#3a3a3a">Error Percentage %</text>
<text x="289.2" y="23.5" font-size="17.5" fill="#111">(a)</text>
</g>
<g id="pb">
<defs><clipPath id="cb"><rect x="390.0" y="2.4" width="292.6" height="231.2"/></clipPath></defs>
<g clip-path="url(#cb)">
<rect x="399.4" y="115.5" width="1.8" height="1.8" fill="#8FBCE6" fill-opacity="0.85"/>
<rect x="421" y="115.5" width="1.8" height="1.8" fill="#8FBCE6" fill-opacity="0.85"/>
<rect x="423.3" y="115.5" width="1.8" height="1.8" fill="#8FBCE6" fill-opacity="0.85"/>
<rect x="427.4" y="115.5" width="1.8" height="1.8" fill="#8FBCE6" fill-opacity="0.85"/>
<rect x="397" y="141.7" width="1.8" height="1.8" fill="#8FBCE6" fill-opacity="0.85"/>
<rect x="399.4" y="141.7" width="1.8" height="1.8" fill="#8FBCE6" fill-opacity="0.85"/>
<rect x="402.9" y="141.7" width="1.8" height="1.8" fill="#8FBCE6" fill-opacity="0.85"/>
<rect x="404.6" y="141.7" width="1.8" height="1.8" fill="#8FBCE6" fill-opacity="0.85"/>
<rect x="414.5" y="141.7" width="1.8" height="1.8" fill="#8FBCE6" fill-opacity="0.85"/>
<rect x="419.8" y="141.7" width="1.8" height="1.8" fill="#8FBCE6" fill-opacity="0.85"/>
<rect x="425.1" y="141.7" width="1.8" height="1.8" fill="#8FBCE6" fill-opacity="0.85"/>
<rect x="410.5" y="147.9" width="1.8" height="1.8" fill="#8FBCE6" fill-opacity="0.85"/>
<rect x="416.9" y="147.9" width="1.8" height="1.8" fill="#8FBCE6" fill-opacity="0.85"/>
<rect x="422.1" y="147.9" width="1.8" height="1.8" fill="#8FBCE6" fill-opacity="0.85"/>
<rect x="435" y="147.9" width="1.8" height="1.8" fill="#8FBCE6" fill-opacity="0.85"/>
<rect x="402.3" y="156.1" width="1.8" height="1.8" fill="#8FBCE6" fill-opacity="0.85"/>
<rect x="405.8" y="156.1" width="1.8" height="1.8" fill="#8FBCE6" fill-opacity="0.85"/>
<rect x="409.3" y="156.1" width="1.8" height="1.8" fill="#8FBCE6" fill-opacity="0.85"/>
<rect x="415.1" y="156.1" width="1.8" height="1.8" fill="#8FBCE6" fill-opacity="0.85"/>
<rect x="418.1" y="156.1" width="1.8" height="1.8" fill="#8FBCE6" fill-opacity="0.85"/>
<rect x="422.7" y="156.1" width="1.8" height="1.8" fill="#8FBCE6" fill-opacity="0.85"/>
<rect x="428" y="156.1" width="1.8" height="1.8" fill="#8FBCE6" fill-opacity="0.85"/>
<rect x="430.9" y="156.1" width="1.8" height="1.8" fill="#8FBCE6" fill-opacity="0.85"/>
<rect x="444.9" y="115.2" width="1.8" height="1.8" fill="#8FBCE6" fill-opacity="0.85"/>
<rect x="453" y="115.2" width="1.8" height="1.8" fill="#8FBCE6" fill-opacity="0.85"/>
<rect x="454.4" y="115.2" width="1.8" height="1.8" fill="#8FBCE6" fill-opacity="0.85"/>
<rect x="440.6" y="148" width="1.8" height="1.8" fill="#8FBCE6" fill-opacity="0.85"/>
<rect x="450.1" y="156.8" width="1.8" height="1.8" fill="#8FBCE6" fill-opacity="0.85"/>
<rect x="466.1" y="141.4" width="1.8" height="1.8" fill="#8FBCE6" fill-opacity="0.85"/>
<rect x="466.1" y="148" width="1.8" height="1.8" fill="#8FBCE6" fill-opacity="0.85"/>
<rect x="466.1" y="156.8" width="1.8" height="1.8" fill="#8FBCE6" fill-opacity="0.85"/>
<rect x="490.9" y="115.2" width="1.8" height="1.8" fill="#8FBCE6" fill-opacity="0.85"/>
<rect x="486.5" y="142.2" width="1.8" height="1.8" fill="#8FBCE6" fill-opacity="0.85"/>
<rect x="499.7" y="115.2" width="1.8" height="1.8" fill="#8FBCE6" fill-opacity="0.85"/>
<rect x="504.1" y="115.2" width="1.8" height="1.8" fill="#8FBCE6" fill-opacity="0.85"/>
<rect x="505.5" y="115.2" width="1.8" height="1.8" fill="#8FBCE6" fill-opacity="0.85"/>
<rect x="517.2" y="115.2" width="1.8" height="1.8" fill="#8FBCE6" fill-opacity="0.85"/>
<rect x="525.2" y="142.2" width="1.8" height="1.8" fill="#8FBCE6" fill-opacity="0.85"/>
<rect x="581.4" y="115.2" width="1.8" height="1.8" fill="#8FBCE6" fill-opacity="0.85"/>
<rect x="549.3" y="115.5" width="1.8" height="1.8" fill="#8FBCE6" fill-opacity="0.85"/>
<rect x="617.9" y="115.5" width="1.8" height="1.8" fill="#8FBCE6" fill-opacity="0.85"/>
<rect x="562.5" y="147.3" width="1.8" height="1.8" fill="#8FBCE6" fill-opacity="0.85"/>
<rect x="550.8" y="156.8" width="1.8" height="1.8" fill="#8FBCE6" fill-opacity="0.85"/>
<rect x="562.5" y="155.7" width="1.8" height="1.8" fill="#8FBCE6" fill-opacity="0.85"/>
<rect x="566.1" y="155.7" width="1.8" height="1.8" fill="#8FBCE6" fill-opacity="0.85"/>
<rect x="581.4" y="155.7" width="1.8" height="1.8" fill="#8FBCE6" fill-opacity="0.85"/>
<rect x="664.4" y="115.6" width="1.8" height="1.8" fill="#8FBCE6" fill-opacity="0.85"/>
<rect x="680.9" y="156.7" width="1.8" height="1.8" fill="#8FBCE6" fill-opacity="0.85"/>
<rect x="464.6" y="207.2" width="1.8" height="1.8" fill="#8FBCE6" fill-opacity="0.85"/>
<rect x="477.8" y="212" width="1.8" height="1.8" fill="#8FBCE6" fill-opacity="0.85"/>
<rect x="448.6" y="212" width="1.8" height="1.8" fill="#8FBCE6" fill-opacity="0.85"/>
<rect x="470.5" y="216.7" width="1.8" height="1.8" fill="#8FBCE6" fill-opacity="0.85"/>
<rect x="486.5" y="196.9" width="1.8" height="1.8" fill="#8FBCE6" fill-opacity="0.85"/>
<rect x="503.3" y="203.5" width="1.8" height="1.8" fill="#8FBCE6" fill-opacity="0.85"/>
<rect x="501.9" y="212" width="1.8" height="1.8" fill="#8FBCE6" fill-opacity="0.85"/>
<rect x="526.4" y="191.1" width="1.8" height="1.8" fill="#8FBCE6" fill-opacity="0.85"/>
<rect x="531.4" y="192.6" width="1.8" height="1.8" fill="#8FBCE6" fill-opacity="0.85"/>
<rect x="567.3" y="196.9" width="1.8" height="1.8" fill="#8FBCE6" fill-opacity="0.85"/>
<rect x="553.3" y="203.9" width="1.8" height="1.8" fill="#8FBCE6" fill-opacity="0.85"/>
<rect x="593.5" y="207.5" width="1.8" height="1.8" fill="#8FBCE6" fill-opacity="0.85"/>
<rect x="599.9" y="192.7" width="1.8" height="1.8" fill="#8FBCE6" fill-opacity="0.85"/>
<rect x="619.8" y="203.9" width="1.8" height="1.8" fill="#8FBCE6" fill-opacity="0.85"/>
<rect x="647.7" y="196.9" width="1.8" height="1.8" fill="#8FBCE6" fill-opacity="0.85"/>
<rect x="437.9" y="219.3" width="1.8" height="1.8" fill="#8FBCE6" fill-opacity="0.85"/>
<rect x="390.6" y="209.52" width="1.8" height="1.8" fill="#8FBCE6" fill-opacity="0.85"/>
<rect x="402.29" y="231.1" width="1.8" height="1.8" fill="#8FBCE6" fill-opacity="0.85"/>
<rect x="413.84" y="223.83" width="1.8" height="1.8" fill="#8FBCE6" fill-opacity="0.85"/>
<rect x="392.16" y="210.16" width="1.8" height="1.8" fill="#8FBCE6" fill-opacity="0.85"/>
<rect x="397.42" y="217.05" width="1.8" height="1.8" fill="#8FBCE6" fill-opacity="0.85"/>
<rect x="394.44" y="196.8" width="1.8" height="1.8" fill="#8FBCE6" fill-opacity="0.85"/>
<rect x="400.35" y="215.49" width="1.8" height="1.8" fill="#8FBCE6" fill-opacity="0.85"/>
<rect x="408.64" y="218.29" width="1.8" height="1.8" fill="#8FBCE6" fill-opacity="0.85"/>
<rect x="416.53" y="212.79" width="1.8" height="1.8" fill="#8FBCE6" fill-opacity="0.85"/>
<rect x="414.34" y="214.21" width="1.8" height="1.8" fill="#8FBCE6" fill-opacity="0.85"/>
<rect x="410.51" y="209.52" width="1.8" height="1.8" fill="#8FBCE6" fill-opacity="0.85"/>
<rect x="400.65" y="201.24" width="1.8" height="1.8" fill="#8FBCE6" fill-opacity="0.85"/>
<rect x="413.76" y="213.34" width="1.8" height="1.8" fill="#8FBCE6" fill-opacity="0.85"/>
<rect x="411.24" y="215.93" width="1.8" height="1.8" fill="#8FBCE6" fill-opacity="0.85"/>
<rect x="412.89" y="217.32" width="1.8" height="1.8" fill="#8FBCE6" fill-opacity="0.85"/>
<rect x="407.93" y="215.93" width="1.8" height="1.8" fill="#8FBCE6" fill-opacity="0.85"/>
<rect x="407.61" y="211.16" width="1.8" height="1.8" fill="#8FBCE6" fill-opacity="0.85"/>
<rect x="406.6" y="221.53" width="1.8" height="1.8" fill="#8FBCE6" fill-opacity="0.85"/>
<rect x="405.33" y="206.84" width="1.8" height="1.8" fill="#8FBCE6" fill-opacity="0.85"/>
<rect x="398.8" y="224.98" width="1.8" height="1.8" fill="#8FBCE6" fill-opacity="0.85"/>
<rect x="396.53" y="221.36" width="1.8" height="1.8" fill="#8FBCE6" fill-opacity="0.85"/>
<rect x="404.18" y="211.22" width="1.8" height="1.8" fill="#8FBCE6" fill-opacity="0.85"/>
<rect x="399.27" y="209.84" width="1.8" height="1.8" fill="#8FBCE6" fill-opacity="0.85"/>
<rect x="405.94" y="219.23" width="1.8" height="1.8" fill="#8FBCE6" fill-opacity="0.85"/>
<rect x="407.49" y="222.25" width="1.8" height="1.8" fill="#8FBCE6" fill-opacity="0.85"/>
<rect x="407.6" y="202.69" width="1.8" height="1.8" fill="#8FBCE6" fill-opacity="0.85"/>
<rect x="411.88" y="217.76" width="1.8" height="1.8" fill="#8FBCE6" fill-opacity="0.85"/>
<rect x="395.74" y="218.67" width="1.8" height="1.8" fill="#8FBCE6" fill-opacity="0.85"/>
<rect x="395.42" y="222.11" width="1.8" height="1.8" fill="#8FBCE6" fill-opacity="0.85"/>
<rect x="410.29" y="217.46" width="1.8" height="1.8" fill="#8FBCE6" fill-opacity="0.85"/>
<rect x="415.61" y="216.76" width="1.8" height="1.8" fill="#8FBCE6" fill-opacity="0.85"/>
<rect x="403.81" y="224.4" width="1.8" height="1.8" fill="#8FBCE6" fill-opacity="0.85"/>
<rect x="411.74" y="211.25" width="1.8" height="1.8" fill="#8FBCE6" fill-opacity="0.85"/>
<rect x="410.84" y="206.53" width="1.8" height="1.8" fill="#8FBCE6" fill-opacity="0.85"/>
<rect x="405.44" y="220.05" width="1.8" height="1.8" fill="#8FBCE6" fill-opacity="0.85"/>
<rect x="406.26" y="220.15" width="1.8" height="1.8" fill="#8FBCE6" fill-opacity="0.85"/>
<rect x="405.64" y="217.79" width="1.8" height="1.8" fill="#8FBCE6" fill-opacity="0.85"/>
<rect x="407.27" y="198.78" width="1.8" height="1.8" fill="#8FBCE6" fill-opacity="0.85"/>
<rect x="406.28" y="211.43" width="1.8" height="1.8" fill="#8FBCE6" fill-opacity="0.85"/>
<rect x="394.48" y="213.85" width="1.8" height="1.8" fill="#8FBCE6" fill-opacity="0.85"/>
<rect x="419.97" y="196.37" width="1.8" height="1.8" fill="#8FBCE6" fill-opacity="0.85"/>
<rect x="426.65" y="194.91" width="1.8" height="1.8" fill="#8FBCE6" fill-opacity="0.85"/>
<rect x="423.49" y="187.07" width="1.8" height="1.8" fill="#8FBCE6" fill-opacity="0.85"/>
<rect x="422.6" y="194.07" width="1.8" height="1.8" fill="#8FBCE6" fill-opacity="0.85"/>
<rect x="410.34" y="209.05" width="1.8" height="1.8" fill="#8FBCE6" fill-opacity="0.85"/>
<rect x="412.08" y="207.56" width="1.8" height="1.8" fill="#8FBCE6" fill-opacity="0.85"/>
<rect x="421.72" y="200.85" width="1.8" height="1.8" fill="#8FBCE6" fill-opacity="0.85"/>
<rect x="415.6" y="198.52" width="1.8" height="1.8" fill="#8FBCE6" fill-opacity="0.85"/>
<rect x="400.03" y="230.76" width="1.8" height="1.8" fill="#8FBCE6" fill-opacity="0.85"/>
<rect x="402.88" y="220.46" width="1.8" height="1.8" fill="#8FBCE6" fill-opacity="0.85"/>
<rect x="425.82" y="180.84" width="1.8" height="1.8" fill="#8FBCE6" fill-opacity="0.85"/>
<rect x="395.1" y="218.31" width="1.8" height="1.8" fill="#8FBCE6" fill-opacity="0.85"/>
<rect x="390.44" y="205.69" width="1.8" height="1.8" fill="#8FBCE6" fill-opacity="0.85"/>
<rect x="393.12" y="207.16" width="1.8" height="1.8" fill="#8FBCE6" fill-opacity="0.85"/>
<rect x="395.63" y="201.92" width="1.8" height="1.8" fill="#8FBCE6" fill-opacity="0.85"/>
<rect x="392.63" y="211.69" width="1.8" height="1.8" fill="#8FBCE6" fill-opacity="0.85"/>
<rect x="391.91" y="229.7" width="1.8" height="1.8" fill="#8FBCE6" fill-opacity="0.85"/>
<rect x="416.23" y="166.69" width="1.8" height="1.8" fill="#8FBCE6" fill-opacity="0.85"/>
<rect x="421.26" y="171.64" width="1.8" height="1.8" fill="#8FBCE6" fill-opacity="0.85"/>
<rect x="423.08" y="170.63" width="1.8" height="1.8" fill="#8FBCE6" fill-opacity="0.85"/>
<rect x="425.46" y="177.1" width="1.8" height="1.8" fill="#8FBCE6" fill-opacity="0.85"/>
<rect x="426.37" y="171.24" width="1.8" height="1.8" fill="#8FBCE6" fill-opacity="0.85"/>
<rect x="424.25" y="167.7" width="1.8" height="1.8" fill="#8FBCE6" fill-opacity="0.85"/>
<rect x="424.53" y="177.1" width="1.8" height="1.8" fill="#8FBCE6" fill-opacity="0.85"/>
<rect x="420.27" y="169.71" width="1.8" height="1.8" fill="#8FBCE6" fill-opacity="0.85"/>
<rect x="426.07" y="173.45" width="1.8" height="1.8" fill="#8FBCE6" fill-opacity="0.85"/>
<rect x="406.06" y="179.19" width="1.8" height="1.8" fill="#8FBCE6" fill-opacity="0.85"/>
<rect x="418.19" y="181.91" width="1.8" height="1.8" fill="#8FBCE6" fill-opacity="0.85"/>
<rect x="405.56" y="178.22" width="1.8" height="1.8" fill="#8FBCE6" fill-opacity="0.85"/>
<rect x="416.88" y="186.12" width="1.8" height="1.8" fill="#8FBCE6" fill-opacity="0.85"/>
<rect x="404.06" y="185.03" width="1.8" height="1.8" fill="#8FBCE6" fill-opacity="0.85"/>
<rect x="410.94" y="185.21" width="1.8" height="1.8" fill="#8FBCE6" fill-opacity="0.85"/>
<rect x="407.85" y="181.25" width="1.8" height="1.8" fill="#8FBCE6" fill-opacity="0.85"/>
<rect x="432.88" y="170.84" width="1.8" height="1.8" fill="#8FBCE6" fill-opacity="0.85"/>
<rect x="423.05" y="170.67" width="1.8" height="1.8" fill="#8FBCE6" fill-opacity="0.85"/>
<rect x="420.99" y="192.28" width="1.8" height="1.8" fill="#8FBCE6" fill-opacity="0.85"/>
<rect x="403.65" y="184.2" width="1.8" height="1.8" fill="#8FBCE6" fill-opacity="0.85"/>
<rect x="391.87" y="186.57" width="1.8" height="1.8" fill="#8FBCE6" fill-opacity="0.85"/>
<rect x="414.2" y="112.8" width="2.0" height="2.0" fill="#1070BE"/>
<rect x="421.8" y="124.7" width="2.0" height="2.0" fill="#1070BE"/>
<rect x="399.3" y="145.1" width="2.0" height="2.0" fill="#1070BE"/>
<rect x="428.5" y="151.6" width="2.0" height="2.0" fill="#1070BE"/>
<rect x="444.8" y="129.7" width="2.0" height="2.0" fill="#1070BE"/>
<rect x="454.3" y="142.8" width="2.0" height="2.0" fill="#1070BE"/>
<rect x="455" y="161" width="2.0" height="2.0" fill="#1070BE"/>
<rect x="440.5" y="167.6" width="2.0" height="2.0" fill="#1070BE"/>
<rect x="466" y="130.4" width="2.0" height="2.0" fill="#1070BE"/>
<rect x="461.6" y="168.3" width="2.0" height="2.0" fill="#1070BE"/>
<rect x="490.1" y="131.8" width="2.0" height="2.0" fill="#1070BE"/>
<rect x="484.3" y="134.8" width="2.0" height="2.0" fill="#1070BE"/>
<rect x="486.4" y="150.1" width="2.0" height="2.0" fill="#1070BE"/>
<rect x="504" y="110.7" width="2.0" height="2.0" fill="#1070BE"/>
<rect x="499.6" y="134.8" width="2.0" height="2.0" fill="#1070BE"/>
<rect x="506.2" y="137" width="2.0" height="2.0" fill="#1070BE"/>
<rect x="499.6" y="141.3" width="2.0" height="2.0" fill="#1070BE"/>
<rect x="531.7" y="114.3" width="2.0" height="2.0" fill="#1070BE"/>
<rect x="534.6" y="118" width="2.0" height="2.0" fill="#1070BE"/>
<rect x="525.1" y="124.1" width="2.0" height="2.0" fill="#1070BE"/>
<rect x="531.7" y="131.8" width="2.0" height="2.0" fill="#1070BE"/>
<rect x="517.1" y="145.7" width="2.0" height="2.0" fill="#1070BE"/>
<rect x="541.9" y="116.2" width="2.0" height="2.0" fill="#1070BE"/>
<rect x="549.2" y="118.7" width="2.0" height="2.0" fill="#1070BE"/>
<rect x="562.4" y="117.2" width="2.0" height="2.0" fill="#1070BE"/>
<rect x="567.5" y="117.7" width="2.0" height="2.0" fill="#1070BE"/>
<rect x="581.3" y="123.8" width="2.0" height="2.0" fill="#1070BE"/>
<rect x="581.3" y="128.9" width="2.0" height="2.0" fill="#1070BE"/>
<rect x="582" y="129.7" width="2.0" height="2.0" fill="#1070BE"/>
<rect x="593.3" y="125" width="2.0" height="2.0" fill="#1070BE"/>
<rect x="599.6" y="113.3" width="2.0" height="2.0" fill="#1070BE"/>
<rect x="550" y="137" width="2.0" height="2.0" fill="#1070BE"/>
<rect x="581.3" y="136.2" width="2.0" height="2.0" fill="#1070BE"/>
<rect x="552.9" y="161.8" width="2.0" height="2.0" fill="#1070BE"/>
<rect x="664.3" y="118.8" width="2.0" height="2.0" fill="#1070BE"/>
<rect x="680.8" y="137.6" width="2.0" height="2.0" fill="#1070BE"/>
<rect x="586.8" y="94.1" width="2.0" height="2.0" fill="#1070BE"/>
<rect x="615.1" y="95.8" width="2.0" height="2.0" fill="#1070BE"/>
<rect x="461.6" y="169.1" width="2.0" height="2.0" fill="#1070BE"/>
<rect x="470.4" y="190.3" width="2.0" height="2.0" fill="#1070BE"/>
<rect x="465.3" y="196.8" width="2.0" height="2.0" fill="#1070BE"/>
<rect x="440.5" y="194.7" width="2.0" height="2.0" fill="#1070BE"/>
<rect x="448.5" y="193.9" width="2.0" height="2.0" fill="#1070BE"/>
<rect x="441.9" y="203.4" width="2.0" height="2.0" fill="#1070BE"/>
<rect x="441.2" y="207.5" width="2.0" height="2.0" fill="#1070BE"/>
<rect x="452.9" y="204.9" width="2.0" height="2.0" fill="#1070BE"/>
<rect x="477.7" y="207.5" width="2.0" height="2.0" fill="#1070BE"/>
<rect x="503.2" y="176" width="2.0" height="2.0" fill="#1070BE"/>
<rect x="501.8" y="188.1" width="2.0" height="2.0" fill="#1070BE"/>
<rect x="562.3" y="196.2" width="2.0" height="2.0" fill="#1070BE"/>
<rect x="566.1" y="211" width="2.0" height="2.0" fill="#1070BE"/>
<rect x="634.7" y="218.6" width="2.0" height="2.0" fill="#1070BE"/>
<rect x="647.6" y="210.1" width="2.0" height="2.0" fill="#1070BE"/>
<rect x="439.5" y="162.8" width="2.0" height="2.0" fill="#1070BE"/>
<rect x="437.3" y="171.5" width="2.0" height="2.0" fill="#1070BE"/>
<rect x="429.9" y="212.6" width="2.0" height="2.0" fill="#1070BE"/>
<rect x="441.7" y="203.9" width="2.0" height="2.0" fill="#1070BE"/>
<rect x="441.7" y="207.4" width="2.0" height="2.0" fill="#1070BE"/>
<rect x="421.6" y="218.8" width="2.0" height="2.0" fill="#1070BE"/>
<rect x="407.45" y="225.39" width="2.0" height="2.0" fill="#1070BE"/>
<rect x="400.02" y="213.75" width="2.0" height="2.0" fill="#1070BE"/>
<rect x="409.03" y="215.33" width="2.0" height="2.0" fill="#1070BE"/>
<rect x="403.42" y="205.68" width="2.0" height="2.0" fill="#1070BE"/>
<rect x="406.27" y="224.68" width="2.0" height="2.0" fill="#1070BE"/>
<rect x="391.04" y="221.2" width="2.0" height="2.0" fill="#1070BE"/>
<rect x="393.9" y="220.43" width="2.0" height="2.0" fill="#1070BE"/>
<rect x="406.51" y="211.67" width="2.0" height="2.0" fill="#1070BE"/>
<rect x="406.82" y="214.61" width="2.0" height="2.0" fill="#1070BE"/>
<rect x="405.93" y="204.58" width="2.0" height="2.0" fill="#1070BE"/>
<rect x="415.82" y="219.78" width="2.0" height="2.0" fill="#1070BE"/>
<rect x="409.87" y="209.21" width="2.0" height="2.0" fill="#1070BE"/>
<rect x="414.12" y="222.21" width="2.0" height="2.0" fill="#1070BE"/>
<rect x="413.46" y="218.2" width="2.0" height="2.0" fill="#1070BE"/>
<rect x="413.55" y="229.97" width="2.0" height="2.0" fill="#1070BE"/>
<rect x="413.3" y="200.03" width="2.0" height="2.0" fill="#1070BE"/>
<rect x="405.16" y="214.33" width="2.0" height="2.0" fill="#1070BE"/>
<rect x="417" y="214.4" width="2.0" height="2.0" fill="#1070BE"/>
<rect x="415.2" y="203.2" width="2.0" height="2.0" fill="#1070BE"/>
<rect x="406.94" y="202.74" width="2.0" height="2.0" fill="#1070BE"/>
<rect x="407.62" y="204.85" width="2.0" height="2.0" fill="#1070BE"/>
<rect x="409.51" y="213.95" width="2.0" height="2.0" fill="#1070BE"/>
<rect x="399.16" y="216.71" width="2.0" height="2.0" fill="#1070BE"/>
<rect x="400.21" y="223.19" width="2.0" height="2.0" fill="#1070BE"/>
<rect x="418.09" y="222.16" width="2.0" height="2.0" fill="#1070BE"/>
<rect x="409.23" y="211.46" width="2.0" height="2.0" fill="#1070BE"/>
<rect x="404.21" y="208.23" width="2.0" height="2.0" fill="#1070BE"/>
<rect x="401.16" y="204.05" width="2.0" height="2.0" fill="#1070BE"/>
<rect x="414.97" y="223.22" width="2.0" height="2.0" fill="#1070BE"/>
<rect x="417.11" y="219.08" width="2.0" height="2.0" fill="#1070BE"/>
<rect x="397.33" y="213.59" width="2.0" height="2.0" fill="#1070BE"/>
<rect x="413.62" y="201" width="2.0" height="2.0" fill="#1070BE"/>
<rect x="400.94" y="207.87" width="2.0" height="2.0" fill="#1070BE"/>
<rect x="399.71" y="203.7" width="2.0" height="2.0" fill="#1070BE"/>
<rect x="399.21" y="200.76" width="2.0" height="2.0" fill="#1070BE"/>
<rect x="402.44" y="207.69" width="2.0" height="2.0" fill="#1070BE"/>
<rect x="406.56" y="205.13" width="2.0" height="2.0" fill="#1070BE"/>
<rect x="405.63" y="207.82" width="2.0" height="2.0" fill="#1070BE"/>
<rect x="402.86" y="214.78" width="2.0" height="2.0" fill="#1070BE"/>
<rect x="408.82" y="216.41" width="2.0" height="2.0" fill="#1070BE"/>
<rect x="397.54" y="208.1" width="2.0" height="2.0" fill="#1070BE"/>
<rect x="415.03" y="217.37" width="2.0" height="2.0" fill="#1070BE"/>
<rect x="404.68" y="217.08" width="2.0" height="2.0" fill="#1070BE"/>
<rect x="400.52" y="195" width="2.0" height="2.0" fill="#1070BE"/>
<rect x="413.73" y="217.24" width="2.0" height="2.0" fill="#1070BE"/>
<rect x="402.49" y="213.87" width="2.0" height="2.0" fill="#1070BE"/>
<rect x="390.5" y="212.94" width="2.0" height="2.0" fill="#1070BE"/>
<rect x="421" y="212.65" width="2.0" height="2.0" fill="#1070BE"/>
<rect x="405.6" y="212.32" width="2.0" height="2.0" fill="#1070BE"/>
<rect x="400.14" y="216.86" width="2.0" height="2.0" fill="#1070BE"/>
<rect x="402.06" y="201.06" width="2.0" height="2.0" fill="#1070BE"/>
<rect x="400.59" y="215.74" width="2.0" height="2.0" fill="#1070BE"/>
<rect x="421" y="222.12" width="2.0" height="2.0" fill="#1070BE"/>
<rect x="409.76" y="207.7" width="2.0" height="2.0" fill="#1070BE"/>
<rect x="390.5" y="224.34" width="2.0" height="2.0" fill="#1070BE"/>
<rect x="411.14" y="208.56" width="2.0" height="2.0" fill="#1070BE"/>
<rect x="406.01" y="214.19" width="2.0" height="2.0" fill="#1070BE"/>
<rect x="401.4" y="214.75" width="2.0" height="2.0" fill="#1070BE"/>
<rect x="406.61" y="208.48" width="2.0" height="2.0" fill="#1070BE"/>
<rect x="427.82" y="181.64" width="2.0" height="2.0" fill="#1070BE"/>
<rect x="402.01" y="220.12" width="2.0" height="2.0" fill="#1070BE"/>
<rect x="418.22" y="196.42" width="2.0" height="2.0" fill="#1070BE"/>
<rect x="404.31" y="218.66" width="2.0" height="2.0" fill="#1070BE"/>
<rect x="414.15" y="204.4" width="2.0" height="2.0" fill="#1070BE"/>
<rect x="412.28" y="198.49" width="2.0" height="2.0" fill="#1070BE"/>
<rect x="427.17" y="185.77" width="2.0" height="2.0" fill="#1070BE"/>
<rect x="390.91" y="210.85" width="2.0" height="2.0" fill="#1070BE"/>
<rect x="392.57" y="219.45" width="2.0" height="2.0" fill="#1070BE"/>
<rect x="393.25" y="209.89" width="2.0" height="2.0" fill="#1070BE"/>
<rect x="394.02" y="229.72" width="2.0" height="2.0" fill="#1070BE"/>
<rect x="393.73" y="214.72" width="2.0" height="2.0" fill="#1070BE"/>
<rect x="390.76" y="201.36" width="2.0" height="2.0" fill="#1070BE"/>
<rect x="392.39" y="212.76" width="2.0" height="2.0" fill="#1070BE"/>
<rect x="427.74" y="169.86" width="2.0" height="2.0" fill="#1070BE"/>
<rect x="420.3" y="167.79" width="2.0" height="2.0" fill="#1070BE"/>
<rect x="416.79" y="174.71" width="2.0" height="2.0" fill="#1070BE"/>
<rect x="415" y="170" width="2.0" height="2.0" fill="#1070BE"/>
<rect x="422.01" y="166.15" width="2.0" height="2.0" fill="#1070BE"/>
<rect x="423.78" y="167.14" width="2.0" height="2.0" fill="#1070BE"/>
<rect x="424.63" y="171.14" width="2.0" height="2.0" fill="#1070BE"/>
<rect x="421.24" y="166.61" width="2.0" height="2.0" fill="#1070BE"/>
<rect x="407.28" y="185.23" width="2.0" height="2.0" fill="#1070BE"/>
<rect x="424.1" y="187.93" width="2.0" height="2.0" fill="#1070BE"/>
<rect x="424.34" y="178.22" width="2.0" height="2.0" fill="#1070BE"/>
<rect x="407.51" y="181.29" width="2.0" height="2.0" fill="#1070BE"/>
<rect x="408.24" y="178.97" width="2.0" height="2.0" fill="#1070BE"/>
<rect x="418.66" y="181.22" width="2.0" height="2.0" fill="#1070BE"/>
<rect x="393.28" y="197.51" width="2.0" height="2.0" fill="#1070BE"/>
<rect x="390.64" y="197.48" width="2.0" height="2.0" fill="#1070BE"/>
<rect x="421.8" y="137.5" width="2.0" height="2.0" fill="#2BB29A"/>
<rect x="414.2" y="132.9" width="2.0" height="2.0" fill="#2BB29A"/>
<rect x="399.3" y="148.6" width="2.0" height="2.0" fill="#2BB29A"/>
<rect x="428.5" y="156.2" width="2.0" height="2.0" fill="#2BB29A"/>
<rect x="444.8" y="143.5" width="2.0" height="2.0" fill="#2BB29A"/>
<rect x="444.8" y="155.2" width="2.0" height="2.0" fill="#2BB29A"/>
<rect x="444.8" y="162" width="2.0" height="2.0" fill="#2BB29A"/>
<rect x="454.3" y="150.1" width="2.0" height="2.0" fill="#2BB29A"/>
<rect x="439.7" y="164" width="2.0" height="2.0" fill="#2BB29A"/>
<rect x="466.7" y="141.3" width="2.0" height="2.0" fill="#2BB29A"/>
<rect x="463" y="155.6" width="2.0" height="2.0" fill="#2BB29A"/>
<rect x="490.1" y="142.8" width="2.0" height="2.0" fill="#2BB29A"/>
<rect x="484.3" y="145" width="2.0" height="2.0" fill="#2BB29A"/>
<rect x="486.4" y="151.6" width="2.0" height="2.0" fill="#2BB29A"/>
<rect x="503.2" y="134.8" width="2.0" height="2.0" fill="#2BB29A"/>
<rect x="499.6" y="145" width="2.0" height="2.0" fill="#2BB29A"/>
<rect x="499.6" y="154.5" width="2.0" height="2.0" fill="#2BB29A"/>
<rect x="527.3" y="138.4" width="2.0" height="2.0" fill="#2BB29A"/>
<rect x="531.7" y="134.8" width="2.0" height="2.0" fill="#2BB29A"/>
<rect x="534.6" y="134.8" width="2.0" height="2.0" fill="#2BB29A"/>
<rect x="531.7" y="137.7" width="2.0" height="2.0" fill="#2BB29A"/>
<rect x="517.1" y="143.5" width="2.0" height="2.0" fill="#2BB29A"/>
<rect x="526.6" y="146.4" width="2.0" height="2.0" fill="#2BB29A"/>
<rect x="587.2" y="123.8" width="2.0" height="2.0" fill="#2BB29A"/>
<rect x="549.2" y="134" width="2.0" height="2.0" fill="#2BB29A"/>
<rect x="550" y="147.9" width="2.0" height="2.0" fill="#2BB29A"/>
<rect x="562.4" y="136.2" width="2.0" height="2.0" fill="#2BB29A"/>
<rect x="567.5" y="134" width="2.0" height="2.0" fill="#2BB29A"/>
<rect x="599.6" y="136.2" width="2.0" height="2.0" fill="#2BB29A"/>
<rect x="615.6" y="125.3" width="2.0" height="2.0" fill="#2BB29A"/>
<rect x="617.8" y="135.8" width="2.0" height="2.0" fill="#2BB29A"/>
<rect x="562.4" y="168.3" width="2.0" height="2.0" fill="#2BB29A"/>
<rect x="619.3" y="147.2" width="2.0" height="2.0" fill="#2BB29A"/>
<rect x="664.3" y="134.5" width="2.0" height="2.0" fill="#2BB29A"/>
<rect x="680.8" y="140.7" width="2.0" height="2.0" fill="#2BB29A"/>
<rect x="440.5" y="166.2" width="2.0" height="2.0" fill="#2BB29A"/>
<rect x="450" y="164.7" width="2.0" height="2.0" fill="#2BB29A"/>
<rect x="448.5" y="170.6" width="2.0" height="2.0" fill="#2BB29A"/>
<rect x="452.9" y="171" width="2.0" height="2.0" fill="#2BB29A"/>
<rect x="441.2" y="178.6" width="2.0" height="2.0" fill="#2BB29A"/>
<rect x="466" y="172" width="2.0" height="2.0" fill="#2BB29A"/>
<rect x="467.5" y="171.3" width="2.0" height="2.0" fill="#2BB29A"/>
<rect x="441.9" y="188.1" width="2.0" height="2.0" fill="#2BB29A"/>
<rect x="562.3" y="168" width="2.0" height="2.0" fill="#2BB29A"/>
<rect x="566.1" y="190.5" width="2.0" height="2.0" fill="#2BB29A"/>
<rect x="634.7" y="220" width="2.0" height="2.0" fill="#2BB29A"/>
<rect x="394.4" y="175.6" width="2.0" height="2.0" fill="#2BB29A"/>
<rect x="408.5" y="171" width="2.0" height="2.0" fill="#2BB29A"/>
<rect x="434.7" y="165.8" width="2.0" height="2.0" fill="#2BB29A"/>
<rect x="441.7" y="179" width="2.0" height="2.0" fill="#2BB29A"/>
<rect x="426.8" y="219.2" width="2.0" height="2.0" fill="#2BB29A"/>
<rect x="421.6" y="224.5" width="2.0" height="2.0" fill="#2BB29A"/>
<rect x="418.5" y="225.8" width="2.0" height="2.0" fill="#2BB29A"/>
<rect x="405.24" y="203.23" width="2.0" height="2.0" fill="#2BB29A"/>
<rect x="400.93" y="223.02" width="2.0" height="2.0" fill="#2BB29A"/>
<rect x="402.62" y="213.05" width="2.0" height="2.0" fill="#2BB29A"/>
<rect x="413.45" y="215.01" width="2.0" height="2.0" fill="#2BB29A"/>
<rect x="406.5" y="219.67" width="2.0" height="2.0" fill="#2BB29A"/>
<rect x="403.53" y="215.08" width="2.0" height="2.0" fill="#2BB29A"/>
<rect x="397.07" y="207.25" width="2.0" height="2.0" fill="#2BB29A"/>
<rect x="404.55" y="210.87" width="2.0" height="2.0" fill="#2BB29A"/>
<rect x="419.41" y="208.29" width="2.0" height="2.0" fill="#2BB29A"/>
<rect x="393.79" y="220.25" width="2.0" height="2.0" fill="#2BB29A"/>
<rect x="399.71" y="200.03" width="2.0" height="2.0" fill="#2BB29A"/>
<rect x="401.13" y="217.03" width="2.0" height="2.0" fill="#2BB29A"/>
<rect x="393.37" y="227.34" width="2.0" height="2.0" fill="#2BB29A"/>
<rect x="419.02" y="218.31" width="2.0" height="2.0" fill="#2BB29A"/>
<rect x="411.44" y="214.47" width="2.0" height="2.0" fill="#2BB29A"/>
<rect x="409.91" y="197.45" width="2.0" height="2.0" fill="#2BB29A"/>
<rect x="408.32" y="217.33" width="2.0" height="2.0" fill="#2BB29A"/>
<rect x="404.13" y="222.36" width="2.0" height="2.0" fill="#2BB29A"/>
<rect x="400.8" y="211.41" width="2.0" height="2.0" fill="#2BB29A"/>
<rect x="411.89" y="204.81" width="2.0" height="2.0" fill="#2BB29A"/>
<rect x="393.23" y="229.82" width="2.0" height="2.0" fill="#2BB29A"/>
<rect x="399.41" y="202.65" width="2.0" height="2.0" fill="#2BB29A"/>
<rect x="396.57" y="210.98" width="2.0" height="2.0" fill="#2BB29A"/>
<rect x="398.93" y="222.84" width="2.0" height="2.0" fill="#2BB29A"/>
<rect x="403.99" y="206.6" width="2.0" height="2.0" fill="#2BB29A"/>
<rect x="392.8" y="210.65" width="2.0" height="2.0" fill="#2BB29A"/>
<rect x="406.37" y="213.2" width="2.0" height="2.0" fill="#2BB29A"/>
<rect x="398.59" y="213.44" width="2.0" height="2.0" fill="#2BB29A"/>
<rect x="402.38" y="211.5" width="2.0" height="2.0" fill="#2BB29A"/>
<rect x="407.69" y="215.28" width="2.0" height="2.0" fill="#2BB29A"/>
<rect x="405.81" y="210.39" width="2.0" height="2.0" fill="#2BB29A"/>
<rect x="405.94" y="210.27" width="2.0" height="2.0" fill="#2BB29A"/>
<rect x="409.03" y="228.86" width="2.0" height="2.0" fill="#2BB29A"/>
<rect x="410.7" y="218.19" width="2.0" height="2.0" fill="#2BB29A"/>
<rect x="403.43" y="222.75" width="2.0" height="2.0" fill="#2BB29A"/>
<rect x="412.07" y="216.21" width="2.0" height="2.0" fill="#2BB29A"/>
<rect x="421" y="214.54" width="2.0" height="2.0" fill="#2BB29A"/>
<rect x="401.31" y="212.8" width="2.0" height="2.0" fill="#2BB29A"/>
<rect x="403.19" y="230.36" width="2.0" height="2.0" fill="#2BB29A"/>
<rect x="397.95" y="209.73" width="2.0" height="2.0" fill="#2BB29A"/>
<rect x="402.95" y="208.79" width="2.0" height="2.0" fill="#2BB29A"/>
<rect x="412.29" y="208.25" width="2.0" height="2.0" fill="#2BB29A"/>
<rect x="417.07" y="193.01" width="2.0" height="2.0" fill="#2BB29A"/>
<rect x="402.95" y="228.79" width="2.0" height="2.0" fill="#2BB29A"/>
<rect x="415.92" y="204.55" width="2.0" height="2.0" fill="#2BB29A"/>
<rect x="427.21" y="181.64" width="2.0" height="2.0" fill="#2BB29A"/>
<rect x="412.45" y="205.51" width="2.0" height="2.0" fill="#2BB29A"/>
<rect x="408.7" y="212.05" width="2.0" height="2.0" fill="#2BB29A"/>
<rect x="416.34" y="200.49" width="2.0" height="2.0" fill="#2BB29A"/>
<rect x="428.74" y="180.5" width="2.0" height="2.0" fill="#2BB29A"/>
<rect x="408.84" y="210.76" width="2.0" height="2.0" fill="#2BB29A"/>
<rect x="401.9" y="217.82" width="2.0" height="2.0" fill="#2BB29A"/>
<rect x="391.17" y="213.02" width="2.0" height="2.0" fill="#2BB29A"/>
<rect x="394.82" y="206.77" width="2.0" height="2.0" fill="#2BB29A"/>
<rect x="395.34" y="224.42" width="2.0" height="2.0" fill="#2BB29A"/>
<rect x="395.21" y="226.85" width="2.0" height="2.0" fill="#2BB29A"/>
<rect x="393.03" y="226.83" width="2.0" height="2.0" fill="#2BB29A"/>
<rect x="394.04" y="200.21" width="2.0" height="2.0" fill="#2BB29A"/>
<rect x="425.35" y="168.98" width="2.0" height="2.0" fill="#2BB29A"/>
<rect x="420.44" y="169.15" width="2.0" height="2.0" fill="#2BB29A"/>
<rect x="415" y="172.4" width="2.0" height="2.0" fill="#2BB29A"/>
<rect x="427.91" y="173.71" width="2.0" height="2.0" fill="#2BB29A"/>
<rect x="419.02" y="169.14" width="2.0" height="2.0" fill="#2BB29A"/>
<rect x="419.9" y="167.95" width="2.0" height="2.0" fill="#2BB29A"/>
<rect x="427.53" y="170.71" width="2.0" height="2.0" fill="#2BB29A"/>
<rect x="423.43" y="169.02" width="2.0" height="2.0" fill="#2BB29A"/>
<rect x="421.8" y="167.83" width="2.0" height="2.0" fill="#2BB29A"/>
<rect x="420.77" y="173.65" width="2.0" height="2.0" fill="#2BB29A"/>
<rect x="420.48" y="163" width="2.0" height="2.0" fill="#2BB29A"/>
<rect x="415" y="169.87" width="2.0" height="2.0" fill="#2BB29A"/>
<rect x="428.77" y="172.07" width="2.0" height="2.0" fill="#2BB29A"/>
<rect x="424.21" y="166.75" width="2.0" height="2.0" fill="#2BB29A"/>
<rect x="408.68" y="190.05" width="2.0" height="2.0" fill="#2BB29A"/>
<rect x="402.43" y="187.13" width="2.0" height="2.0" fill="#2BB29A"/>
<rect x="404.29" y="182.99" width="2.0" height="2.0" fill="#2BB29A"/>
<rect x="422.89" y="182.73" width="2.0" height="2.0" fill="#2BB29A"/>
<rect x="418.6" y="178.55" width="2.0" height="2.0" fill="#2BB29A"/>
<rect x="413.1" y="187.57" width="2.0" height="2.0" fill="#2BB29A"/>
<rect x="413.54" y="185.99" width="2.0" height="2.0" fill="#2BB29A"/>
<rect x="424.75" y="186.94" width="2.0" height="2.0" fill="#2BB29A"/>
<rect x="410.91" y="182.75" width="2.0" height="2.0" fill="#2BB29A"/>
<rect x="398.13" y="174.85" width="2.0" height="2.0" fill="#2BB29A"/>
<rect x="423.71" y="166.24" width="2.0" height="2.0" fill="#2BB29A"/>
<rect x="392.65" y="194.72" width="2.0" height="2.0" fill="#2BB29A"/>
<rect x="393.19" y="194.5" width="2.0" height="2.0" fill="#2BB29A"/>
<rect x="393.04" y="191.43" width="2.0" height="2.0" fill="#2BB29A"/>
<rect x="390.09" y="191.98" width="2.0" height="2.0" fill="#2BB29A"/>
<rect x="390.59" y="189.46" width="2.0" height="2.0" fill="#2BB29A"/>
<rect x="391.38" y="194.99" width="2.0" height="2.0" fill="#2BB29A"/>
<rect x="391.81" y="196.07" width="2.0" height="2.0" fill="#2BB29A"/>
<rect x="414.2" y="116.8" width="2.0" height="2.0" fill="#E8292F"/>
<rect x="421.8" y="128.8" width="2.0" height="2.0" fill="#E8292F"/>
<rect x="399.3" y="153.3" width="2.0" height="2.0" fill="#E8292F"/>
<rect x="444.8" y="134" width="2.0" height="2.0" fill="#E8292F"/>
<rect x="444.8" y="150.1" width="2.0" height="2.0" fill="#E8292F"/>
<rect x="444.8" y="159.6" width="2.0" height="2.0" fill="#E8292F"/>
<rect x="455" y="153" width="2.0" height="2.0" fill="#E8292F"/>
<rect x="453.6" y="156.7" width="2.0" height="2.0" fill="#E8292F"/>
<rect x="449.2" y="166.9" width="2.0" height="2.0" fill="#E8292F"/>
<rect x="441.2" y="156.7" width="2.0" height="2.0" fill="#E8292F"/>
<rect x="440.5" y="160.3" width="2.0" height="2.0" fill="#E8292F"/>
<rect x="466" y="132.9" width="2.0" height="2.0" fill="#E8292F"/>
<rect x="462.4" y="147.9" width="2.0" height="2.0" fill="#E8292F"/>
<rect x="484.3" y="128.2" width="2.0" height="2.0" fill="#E8292F"/>
<rect x="490.1" y="137.7" width="2.0" height="2.0" fill="#E8292F"/>
<rect x="487.2" y="153.7" width="2.0" height="2.0" fill="#E8292F"/>
<rect x="504" y="122.4" width="2.0" height="2.0" fill="#E8292F"/>
<rect x="499.6" y="137.7" width="2.0" height="2.0" fill="#E8292F"/>
<rect x="506.2" y="147.5" width="2.0" height="2.0" fill="#E8292F"/>
<rect x="500.3" y="151.6" width="2.0" height="2.0" fill="#E8292F"/>
<rect x="534.6" y="112.9" width="2.0" height="2.0" fill="#E8292F"/>
<rect x="525.1" y="131.8" width="2.0" height="2.0" fill="#E8292F"/>
<rect x="526.6" y="137.7" width="2.0" height="2.0" fill="#E8292F"/>
<rect x="517.1" y="139.9" width="2.0" height="2.0" fill="#E8292F"/>
<rect x="526.6" y="157.4" width="2.0" height="2.0" fill="#E8292F"/>
<rect x="581.3" y="118" width="2.0" height="2.0" fill="#E8292F"/>
<rect x="587.2" y="106" width="2.0" height="2.0" fill="#E8292F"/>
<rect x="549.2" y="123.5" width="2.0" height="2.0" fill="#E8292F"/>
<rect x="541.9" y="126.4" width="2.0" height="2.0" fill="#E8292F"/>
<rect x="562.4" y="119.9" width="2.0" height="2.0" fill="#E8292F"/>
<rect x="614.9" y="114.8" width="2.0" height="2.0" fill="#E8292F"/>
<rect x="550" y="143.5" width="2.0" height="2.0" fill="#E8292F"/>
<rect x="581.3" y="134" width="2.0" height="2.0" fill="#E8292F"/>
<rect x="581.3" y="139.9" width="2.0" height="2.0" fill="#E8292F"/>
<rect x="593" y="139.1" width="2.0" height="2.0" fill="#E8292F"/>
<rect x="599.6" y="140.6" width="2.0" height="2.0" fill="#E8292F"/>
<rect x="552.9" y="150.8" width="2.0" height="2.0" fill="#E8292F"/>
<rect x="562.4" y="164.7" width="2.0" height="2.0" fill="#E8292F"/>
<rect x="619.3" y="149.4" width="2.0" height="2.0" fill="#E8292F"/>
<rect x="664.3" y="132.3" width="2.0" height="2.0" fill="#E8292F"/>
<rect x="680.8" y="129.7" width="2.0" height="2.0" fill="#E8292F"/>
<rect x="441.9" y="169.8" width="2.0" height="2.0" fill="#E8292F"/>
<rect x="448.5" y="173.9" width="2.0" height="2.0" fill="#E8292F"/>
<rect x="450" y="167.6" width="2.0" height="2.0" fill="#E8292F"/>
<rect x="452.9" y="168.4" width="2.0" height="2.0" fill="#E8292F"/>
<rect x="464.5" y="176.4" width="2.0" height="2.0" fill="#E8292F"/>
<rect x="470.4" y="179.3" width="2.0" height="2.0" fill="#E8292F"/>
<rect x="477.7" y="177.9" width="2.0" height="2.0" fill="#E8292F"/>
<rect x="466" y="183.7" width="2.0" height="2.0" fill="#E8292F"/>
<rect x="501.8" y="167.6" width="2.0" height="2.0" fill="#E8292F"/>
<rect x="562.3" y="165.1" width="2.0" height="2.0" fill="#E8292F"/>
<rect x="566.1" y="195.8" width="2.0" height="2.0" fill="#E8292F"/>
<rect x="634.7" y="209.9" width="2.0" height="2.0" fill="#E8292F"/>
<rect x="647.6" y="198.9" width="2.0" height="2.0" fill="#E8292F"/>
<rect x="394.4" y="177.6" width="2.0" height="2.0" fill="#E8292F"/>
<rect x="410.2" y="168.5" width="2.0" height="2.0" fill="#E8292F"/>
<rect x="430.8" y="163.6" width="2.0" height="2.0" fill="#E8292F"/>
<rect x="437.8" y="165" width="2.0" height="2.0" fill="#E8292F"/>
<rect x="440.4" y="160.6" width="2.0" height="2.0" fill="#E8292F"/>
<rect x="441.7" y="169.8" width="2.0" height="2.0" fill="#E8292F"/>
<rect x="426.8" y="212.6" width="2.0" height="2.0" fill="#E8292F"/>
<rect x="400.32" y="210.14" width="2.0" height="2.0" fill="#E8292F"/>
<rect x="396.92" y="210.11" width="2.0" height="2.0" fill="#E8292F"/>
<rect x="392.74" y="203.04" width="2.0" height="2.0" fill="#E8292F"/>
<rect x="406.64" y="214.96" width="2.0" height="2.0" fill="#E8292F"/>
<rect x="398.01" y="214.63" width="2.0" height="2.0" fill="#E8292F"/>
<rect x="411.33" y="212.4" width="2.0" height="2.0" fill="#E8292F"/>
<rect x="398.1" y="209.08" width="2.0" height="2.0" fill="#E8292F"/>
<rect x="406.91" y="210.23" width="2.0" height="2.0" fill="#E8292F"/>
<rect x="415.75" y="219.55" width="2.0" height="2.0" fill="#E8292F"/>
<rect x="421" y="206.93" width="2.0" height="2.0" fill="#E8292F"/>
<rect x="405.68" y="212.25" width="2.0" height="2.0" fill="#E8292F"/>
<rect x="392.02" y="204.38" width="2.0" height="2.0" fill="#E8292F"/>
<rect x="395.47" y="224.62" width="2.0" height="2.0" fill="#E8292F"/>
<rect x="402.93" y="213.56" width="2.0" height="2.0" fill="#E8292F"/>
<rect x="401.05" y="208.68" width="2.0" height="2.0" fill="#E8292F"/>
<rect x="396.66" y="207.14" width="2.0" height="2.0" fill="#E8292F"/>
<rect x="404.74" y="212.71" width="2.0" height="2.0" fill="#E8292F"/>
<rect x="405.94" y="218.61" width="2.0" height="2.0" fill="#E8292F"/>
<rect x="413.23" y="221.83" width="2.0" height="2.0" fill="#E8292F"/>
<rect x="391.18" y="216.2" width="2.0" height="2.0" fill="#E8292F"/>
<rect x="410.79" y="213.48" width="2.0" height="2.0" fill="#E8292F"/>
<rect x="406.89" y="201.68" width="2.0" height="2.0" fill="#E8292F"/>
<rect x="407.61" y="211.53" width="2.0" height="2.0" fill="#E8292F"/>
<rect x="408.18" y="214.41" width="2.0" height="2.0" fill="#E8292F"/>
<rect x="407.29" y="220.85" width="2.0" height="2.0" fill="#E8292F"/>
<rect x="404.98" y="212.48" width="2.0" height="2.0" fill="#E8292F"/>
<rect x="414.23" y="221.79" width="2.0" height="2.0" fill="#E8292F"/>
<rect x="418.34" y="218.72" width="2.0" height="2.0" fill="#E8292F"/>
<rect x="408.44" y="213.98" width="2.0" height="2.0" fill="#E8292F"/>
<rect x="399.55" y="217.92" width="2.0" height="2.0" fill="#E8292F"/>
<rect x="400.58" y="209.71" width="2.0" height="2.0" fill="#E8292F"/>
<rect x="406.7" y="215.76" width="2.0" height="2.0" fill="#E8292F"/>
<rect x="404.17" y="222.75" width="2.0" height="2.0" fill="#E8292F"/>
<rect x="413.04" y="217.94" width="2.0" height="2.0" fill="#E8292F"/>
<rect x="398.55" y="231" width="2.0" height="2.0" fill="#E8292F"/>
<rect x="405.3" y="207.59" width="2.0" height="2.0" fill="#E8292F"/>
<rect x="406.65" y="204.77" width="2.0" height="2.0" fill="#E8292F"/>
<rect x="411.37" y="207.58" width="2.0" height="2.0" fill="#E8292F"/>
<rect x="404.86" y="201.2" width="2.0" height="2.0" fill="#E8292F"/>
<rect x="405.97" y="207.49" width="2.0" height="2.0" fill="#E8292F"/>
<rect x="394.52" y="217.91" width="2.0" height="2.0" fill="#E8292F"/>
<rect x="415.77" y="222.58" width="2.0" height="2.0" fill="#E8292F"/>
<rect x="418.96" y="213.12" width="2.0" height="2.0" fill="#E8292F"/>
<rect x="415.22" y="206.25" width="2.0" height="2.0" fill="#E8292F"/>
<rect x="413.87" y="208.62" width="2.0" height="2.0" fill="#E8292F"/>
<rect x="399.68" y="214.99" width="2.0" height="2.0" fill="#E8292F"/>
<rect x="399.32" y="223.62" width="2.0" height="2.0" fill="#E8292F"/>
<rect x="406.8" y="207.72" width="2.0" height="2.0" fill="#E8292F"/>
<rect x="391.8" y="219.42" width="2.0" height="2.0" fill="#E8292F"/>
<rect x="404.44" y="199.63" width="2.0" height="2.0" fill="#E8292F"/>
<rect x="395.67" y="216.53" width="2.0" height="2.0" fill="#E8292F"/>
<rect x="421" y="225.24" width="2.0" height="2.0" fill="#E8292F"/>
<rect x="411.2" y="207.42" width="2.0" height="2.0" fill="#E8292F"/>
<rect x="419.36" y="184.04" width="2.0" height="2.0" fill="#E8292F"/>
<rect x="419.16" y="199.13" width="2.0" height="2.0" fill="#E8292F"/>
<rect x="403.63" y="213.48" width="2.0" height="2.0" fill="#E8292F"/>
<rect x="428.72" y="180.92" width="2.0" height="2.0" fill="#E8292F"/>
<rect x="420.07" y="200.29" width="2.0" height="2.0" fill="#E8292F"/>
<rect x="405.07" y="211.68" width="2.0" height="2.0" fill="#E8292F"/>
<rect x="412.06" y="212.35" width="2.0" height="2.0" fill="#E8292F"/>
<rect x="401.8" y="228.35" width="2.0" height="2.0" fill="#E8292F"/>
<rect x="401.6" y="226" width="2.0" height="2.0" fill="#E8292F"/>
<rect x="427.57" y="182.38" width="2.0" height="2.0" fill="#E8292F"/>
<rect x="393.02" y="211.8" width="2.0" height="2.0" fill="#E8292F"/>
<rect x="395.71" y="229.26" width="2.0" height="2.0" fill="#E8292F"/>
<rect x="395.76" y="213.76" width="2.0" height="2.0" fill="#E8292F"/>
<rect x="393.74" y="200.32" width="2.0" height="2.0" fill="#E8292F"/>
<rect x="393.12" y="206.88" width="2.0" height="2.0" fill="#E8292F"/>
<rect x="425.23" y="165.42" width="2.0" height="2.0" fill="#E8292F"/>
<rect x="419.65" y="175.09" width="2.0" height="2.0" fill="#E8292F"/>
<rect x="419.25" y="172.08" width="2.0" height="2.0" fill="#E8292F"/>
<rect x="423.73" y="171.82" width="2.0" height="2.0" fill="#E8292F"/>
<rect x="424.54" y="177" width="2.0" height="2.0" fill="#E8292F"/>
<rect x="427.89" y="168.8" width="2.0" height="2.0" fill="#E8292F"/>
<rect x="429.28" y="166.32" width="2.0" height="2.0" fill="#E8292F"/>
<rect x="424.6" y="170.71" width="2.0" height="2.0" fill="#E8292F"/>
<rect x="427.42" y="166.53" width="2.0" height="2.0" fill="#E8292F"/>
<rect x="421.79" y="167.37" width="2.0" height="2.0" fill="#E8292F"/>
<rect x="423.54" y="180.23" width="2.0" height="2.0" fill="#E8292F"/>
<rect x="418.16" y="184.07" width="2.0" height="2.0" fill="#E8292F"/>
<rect x="431.17" y="189.52" width="2.0" height="2.0" fill="#E8292F"/>
<rect x="424.99" y="168.51" width="2.0" height="2.0" fill="#E8292F"/>
<rect x="393.94" y="187.47" width="2.0" height="2.0" fill="#E8292F"/>
<rect x="412.46" y="167.11" width="2.0" height="2.0" fill="#E8292F"/>
<rect x="433.61" y="161.06" width="2.0" height="2.0" fill="#E8292F"/>
<rect x="391.1" y="190.4" width="2.0" height="2.0" fill="#E8292F"/>
<rect x="390.61" y="190.07" width="2.0" height="2.0" fill="#E8292F"/>
<rect x="421.5" y="114" width="2.0" height="2.0" fill="#AE4A22"/>
<rect x="399.3" y="132" width="2.0" height="2.0" fill="#AE4A22"/>
<rect x="444.8" y="106.6" width="2.0" height="2.0" fill="#AE4A22"/>
<rect x="466" y="110.4" width="2.0" height="2.0" fill="#AE4A22"/>
<rect x="444.8" y="151.3" width="2.0" height="2.0" fill="#AE4A22"/>
<rect x="455.4" y="137.7" width="2.0" height="2.0" fill="#AE4A22"/>
<rect x="455" y="146.4" width="2.0" height="2.0" fill="#AE4A22"/>
<rect x="461.6" y="154.5" width="2.0" height="2.0" fill="#AE4A22"/>
<rect x="484.3" y="115.1" width="2.0" height="2.0" fill="#AE4A22"/>
<rect x="490.1" y="126.7" width="2.0" height="2.0" fill="#AE4A22"/>
<rect x="486.4" y="135.5" width="2.0" height="2.0" fill="#AE4A22"/>
<rect x="486.4" y="146.4" width="2.0" height="2.0" fill="#AE4A22"/>
<rect x="499.6" y="123.1" width="2.0" height="2.0" fill="#AE4A22"/>
<rect x="499.6" y="125.3" width="2.0" height="2.0" fill="#AE4A22"/>
<rect x="499.6" y="129.7" width="2.0" height="2.0" fill="#AE4A22"/>
<rect x="499.6" y="147.2" width="2.0" height="2.0" fill="#AE4A22"/>
<rect x="525.1" y="114.3" width="2.0" height="2.0" fill="#AE4A22"/>
<rect x="531.7" y="110.4" width="2.0" height="2.0" fill="#AE4A22"/>
<rect x="517.1" y="126.7" width="2.0" height="2.0" fill="#AE4A22"/>
<rect x="526.6" y="134.8" width="2.0" height="2.0" fill="#AE4A22"/>
<rect x="541.9" y="100.8" width="2.0" height="2.0" fill="#AE4A22"/>
<rect x="549.2" y="100.8" width="2.0" height="2.0" fill="#AE4A22"/>
<rect x="581.3" y="101.2" width="2.0" height="2.0" fill="#AE4A22"/>
<rect x="581.3" y="117.2" width="2.0" height="2.0" fill="#AE4A22"/>
<rect x="593.3" y="106.6" width="2.0" height="2.0" fill="#AE4A22"/>
<rect x="617.8" y="103.1" width="2.0" height="2.0" fill="#AE4A22"/>
<rect x="550" y="145.7" width="2.0" height="2.0" fill="#AE4A22"/>
<rect x="619.3" y="134.3" width="2.0" height="2.0" fill="#AE4A22"/>
<rect x="552.9" y="153.7" width="2.0" height="2.0" fill="#AE4A22"/>
<rect x="664.3" y="104" width="2.0" height="2.0" fill="#AE4A22"/>
<rect x="680.8" y="117.5" width="2.0" height="2.0" fill="#AE4A22"/>
<rect x="534.8" y="78.8" width="2.0" height="2.0" fill="#AE4A22"/>
<rect x="531.6" y="86" width="2.0" height="2.0" fill="#AE4A22"/>
<rect x="562.8" y="79.3" width="2.0" height="2.0" fill="#AE4A22"/>
<rect x="567.3" y="87.3" width="2.0" height="2.0" fill="#AE4A22"/>
<rect x="586.8" y="63.7" width="2.0" height="2.0" fill="#AE4A22"/>
<rect x="581.7" y="97.7" width="2.0" height="2.0" fill="#AE4A22"/>
<rect x="599.4" y="89.7" width="2.0" height="2.0" fill="#AE4A22"/>
<rect x="615.1" y="58.6" width="2.0" height="2.0" fill="#AE4A22"/>
<rect x="445.6" y="171.3" width="2.0" height="2.0" fill="#AE4A22"/>
<rect x="440.5" y="177.9" width="2.0" height="2.0" fill="#AE4A22"/>
<rect x="464.5" y="188.8" width="2.0" height="2.0" fill="#AE4A22"/>
<rect x="470.4" y="191.7" width="2.0" height="2.0" fill="#AE4A22"/>
<rect x="467.5" y="195" width="2.0" height="2.0" fill="#AE4A22"/>
<rect x="466" y="197.9" width="2.0" height="2.0" fill="#AE4A22"/>
<rect x="452.9" y="191.7" width="2.0" height="2.0" fill="#AE4A22"/>
<rect x="441.9" y="185.9" width="2.0" height="2.0" fill="#AE4A22"/>
<rect x="441.2" y="197.9" width="2.0" height="2.0" fill="#AE4A22"/>
<rect x="448.5" y="198.3" width="2.0" height="2.0" fill="#AE4A22"/>
<rect x="477.7" y="206.6" width="2.0" height="2.0" fill="#AE4A22"/>
<rect x="503.2" y="179.3" width="2.0" height="2.0" fill="#AE4A22"/>
<rect x="501.8" y="182.7" width="2.0" height="2.0" fill="#AE4A22"/>
<rect x="562.3" y="169.3" width="2.0" height="2.0" fill="#AE4A22"/>
<rect x="566.1" y="207.4" width="2.0" height="2.0" fill="#AE4A22"/>
<rect x="634.7" y="221.2" width="2.0" height="2.0" fill="#AE4A22"/>
<rect x="647.6" y="192.6" width="2.0" height="2.0" fill="#AE4A22"/>
<rect x="410.6" y="170.2" width="2.0" height="2.0" fill="#AE4A22"/>
<rect x="428.6" y="159.3" width="2.0" height="2.0" fill="#AE4A22"/>
<rect x="434.7" y="176.8" width="2.0" height="2.0" fill="#AE4A22"/>
<rect x="440.4" y="177.2" width="2.0" height="2.0" fill="#AE4A22"/>
<rect x="426.8" y="223.2" width="2.0" height="2.0" fill="#AE4A22"/>
<rect x="429.9" y="205.2" width="2.0" height="2.0" fill="#AE4A22"/>
<rect x="441.7" y="197.8" width="2.0" height="2.0" fill="#AE4A22"/>
<rect x="409.68" y="214.9" width="2.0" height="2.0" fill="#AE4A22"/>
<rect x="406.76" y="221.52" width="2.0" height="2.0" fill="#AE4A22"/>
<rect x="417.79" y="208.26" width="2.0" height="2.0" fill="#AE4A22"/>
<rect x="404.72" y="217" width="2.0" height="2.0" fill="#AE4A22"/>
<rect x="410.9" y="205.21" width="2.0" height="2.0" fill="#AE4A22"/>
<rect x="408.95" y="206.71" width="2.0" height="2.0" fill="#AE4A22"/>
<rect x="414.29" y="215.64" width="2.0" height="2.0" fill="#AE4A22"/>
<rect x="404.55" y="209.24" width="2.0" height="2.0" fill="#AE4A22"/>
<rect x="407.06" y="210.81" width="2.0" height="2.0" fill="#AE4A22"/>
<rect x="409.53" y="225.96" width="2.0" height="2.0" fill="#AE4A22"/>
<rect x="409.19" y="213.71" width="2.0" height="2.0" fill="#AE4A22"/>
<rect x="399.51" y="206.46" width="2.0" height="2.0" fill="#AE4A22"/>
<rect x="406.84" y="195.3" width="2.0" height="2.0" fill="#AE4A22"/>
<rect x="401.81" y="197.27" width="2.0" height="2.0" fill="#AE4A22"/>
<rect x="401.86" y="209.49" width="2.0" height="2.0" fill="#AE4A22"/>
<rect x="399.94" y="223.61" width="2.0" height="2.0" fill="#AE4A22"/>
<rect x="390.5" y="216.13" width="2.0" height="2.0" fill="#AE4A22"/>
<rect x="418.47" y="209.28" width="2.0" height="2.0" fill="#AE4A22"/>
<rect x="405.11" y="212.27" width="2.0" height="2.0" fill="#AE4A22"/>
<rect x="406.56" y="209.08" width="2.0" height="2.0" fill="#AE4A22"/>
<rect x="404.06" y="212.07" width="2.0" height="2.0" fill="#AE4A22"/>
<rect x="407.82" y="200.46" width="2.0" height="2.0" fill="#AE4A22"/>
<rect x="418.43" y="211.33" width="2.0" height="2.0" fill="#AE4A22"/>
<rect x="405.06" y="212.28" width="2.0" height="2.0" fill="#AE4A22"/>
<rect x="396.85" y="214.35" width="2.0" height="2.0" fill="#AE4A22"/>
<rect x="405.88" y="199.46" width="2.0" height="2.0" fill="#AE4A22"/>
<rect x="421" y="215.84" width="2.0" height="2.0" fill="#AE4A22"/>
<rect x="397.25" y="201.73" width="2.0" height="2.0" fill="#AE4A22"/>
<rect x="397.9" y="206.09" width="2.0" height="2.0" fill="#AE4A22"/>
<rect x="405.68" y="227.49" width="2.0" height="2.0" fill="#AE4A22"/>
<rect x="408.23" y="199.79" width="2.0" height="2.0" fill="#AE4A22"/>
<rect x="413.4" y="209.6" width="2.0" height="2.0" fill="#AE4A22"/>
<rect x="401.15" y="217.29" width="2.0" height="2.0" fill="#AE4A22"/>
<rect x="400.2" y="213.67" width="2.0" height="2.0" fill="#AE4A22"/>
<rect x="408.83" y="213.74" width="2.0" height="2.0" fill="#AE4A22"/>
<rect x="390.5" y="218.48" width="2.0" height="2.0" fill="#AE4A22"/>
<rect x="399.67" y="225.78" width="2.0" height="2.0" fill="#AE4A22"/>
<rect x="406.22" y="216.13" width="2.0" height="2.0" fill="#AE4A22"/>
<rect x="405.22" y="209.34" width="2.0" height="2.0" fill="#AE4A22"/>
<rect x="402.1" y="211.79" width="2.0" height="2.0" fill="#AE4A22"/>
<rect x="395.81" y="202.98" width="2.0" height="2.0" fill="#AE4A22"/>
<rect x="406.58" y="220.22" width="2.0" height="2.0" fill="#AE4A22"/>
<rect x="394.7" y="218.94" width="2.0" height="2.0" fill="#AE4A22"/>
<rect x="406.59" y="216.62" width="2.0" height="2.0" fill="#AE4A22"/>
<rect x="411.07" y="219.8" width="2.0" height="2.0" fill="#AE4A22"/>
<rect x="408.49" y="225.42" width="2.0" height="2.0" fill="#AE4A22"/>
<rect x="406.77" y="226.49" width="2.0" height="2.0" fill="#AE4A22"/>
<rect x="412.9" y="222.88" width="2.0" height="2.0" fill="#AE4A22"/>
<rect x="400.08" y="214.62" width="2.0" height="2.0" fill="#AE4A22"/>
<rect x="410.39" y="206.95" width="2.0" height="2.0" fill="#AE4A22"/>
<rect x="395.03" y="205.18" width="2.0" height="2.0" fill="#AE4A22"/>
<rect x="416.09" y="218.2" width="2.0" height="2.0" fill="#AE4A22"/>
<rect x="419.82" y="218.81" width="2.0" height="2.0" fill="#AE4A22"/>
<rect x="402.47" y="211.1" width="2.0" height="2.0" fill="#AE4A22"/>
<rect x="415.34" y="230.83" width="2.0" height="2.0" fill="#AE4A22"/>
<rect x="407.6" y="196.98" width="2.0" height="2.0" fill="#AE4A22"/>
<rect x="408.93" y="210.76" width="2.0" height="2.0" fill="#AE4A22"/>
<rect x="403.38" y="224.38" width="2.0" height="2.0" fill="#AE4A22"/>
<rect x="427.28" y="179.89" width="2.0" height="2.0" fill="#AE4A22"/>
<rect x="408.12" y="213.48" width="2.0" height="2.0" fill="#AE4A22"/>
<rect x="421.69" y="188.92" width="2.0" height="2.0" fill="#AE4A22"/>
<rect x="418.08" y="194.44" width="2.0" height="2.0" fill="#AE4A22"/>
<rect x="409.45" y="225.8" width="2.0" height="2.0" fill="#AE4A22"/>
<rect x="399.28" y="231" width="2.0" height="2.0" fill="#AE4A22"/>
<rect x="402.01" y="222.68" width="2.0" height="2.0" fill="#AE4A22"/>
<rect x="415.41" y="212.74" width="2.0" height="2.0" fill="#AE4A22"/>
<rect x="402.87" y="224.84" width="2.0" height="2.0" fill="#AE4A22"/>
<rect x="422.6" y="195.95" width="2.0" height="2.0" fill="#AE4A22"/>
<rect x="414.08" y="212.34" width="2.0" height="2.0" fill="#AE4A22"/>
<rect x="425.9" y="183.3" width="2.0" height="2.0" fill="#AE4A22"/>
<rect x="394.91" y="197.48" width="2.0" height="2.0" fill="#AE4A22"/>
<rect x="395.85" y="215.33" width="2.0" height="2.0" fill="#AE4A22"/>
<rect x="393.24" y="209.97" width="2.0" height="2.0" fill="#AE4A22"/>
<rect x="395.16" y="206.85" width="2.0" height="2.0" fill="#AE4A22"/>
<rect x="392" y="217.49" width="2.0" height="2.0" fill="#AE4A22"/>
<rect x="395.56" y="198.85" width="2.0" height="2.0" fill="#AE4A22"/>
<rect x="392.1" y="199.36" width="2.0" height="2.0" fill="#AE4A22"/>
<rect x="390.08" y="205.96" width="2.0" height="2.0" fill="#AE4A22"/>
<rect x="391.13" y="216.83" width="2.0" height="2.0" fill="#AE4A22"/>
<rect x="393.99" y="206.84" width="2.0" height="2.0" fill="#AE4A22"/>
<rect x="391.48" y="221.43" width="2.0" height="2.0" fill="#AE4A22"/>
<rect x="431.83" y="163.65" width="2.0" height="2.0" fill="#AE4A22"/>
<rect x="427.97" y="168.88" width="2.0" height="2.0" fill="#AE4A22"/>
<rect x="429.15" y="166.45" width="2.0" height="2.0" fill="#AE4A22"/>
<rect x="423.04" y="173.64" width="2.0" height="2.0" fill="#AE4A22"/>
<rect x="425.57" y="167.82" width="2.0" height="2.0" fill="#AE4A22"/>
<rect x="433" y="177" width="2.0" height="2.0" fill="#AE4A22"/>
<rect x="421.56" y="169.32" width="2.0" height="2.0" fill="#AE4A22"/>
<rect x="421.52" y="172.38" width="2.0" height="2.0" fill="#AE4A22"/>
<rect x="420.57" y="175.69" width="2.0" height="2.0" fill="#AE4A22"/>
<rect x="425.43" y="170.01" width="2.0" height="2.0" fill="#AE4A22"/>
<rect x="424.24" y="166.97" width="2.0" height="2.0" fill="#AE4A22"/>
<rect x="419.83" y="171.72" width="2.0" height="2.0" fill="#AE4A22"/>
<rect x="422.45" y="190.17" width="2.0" height="2.0" fill="#AE4A22"/>
<rect x="424.23" y="187.31" width="2.0" height="2.0" fill="#AE4A22"/>
<rect x="414.43" y="184.78" width="2.0" height="2.0" fill="#AE4A22"/>
<rect x="403.2" y="184.5" width="2.0" height="2.0" fill="#AE4A22"/>
<rect x="406.68" y="189.67" width="2.0" height="2.0" fill="#AE4A22"/>
<rect x="423.5" y="187.57" width="2.0" height="2.0" fill="#AE4A22"/>
<rect x="409.34" y="178.98" width="2.0" height="2.0" fill="#AE4A22"/>
<rect x="419.59" y="180.29" width="2.0" height="2.0" fill="#AE4A22"/>
<rect x="397.65" y="193.75" width="2.0" height="2.0" fill="#AE4A22"/>
<rect x="422.59" y="162.02" width="2.0" height="2.0" fill="#AE4A22"/>
<rect x="413.28" y="185.83" width="2.0" height="2.0" fill="#AE4A22"/>
<rect x="408.48" y="162.16" width="2.0" height="2.0" fill="#AE4A22"/>
<rect x="391.9" y="189.51" width="2.0" height="2.0" fill="#AE4A22"/>
<rect x="421.8" y="131.5" width="2.0" height="2.0" fill="#EDAC2A"/>
<rect x="399.3" y="134.6" width="2.0" height="2.0" fill="#EDAC2A"/>
<rect x="427.3" y="142.4" width="2.0" height="2.0" fill="#EDAC2A"/>
<rect x="437.5" y="149.2" width="2.0" height="2.0" fill="#EDAC2A"/>
<rect x="444.8" y="113.2" width="2.0" height="2.0" fill="#EDAC2A"/>
<rect x="466" y="107" width="2.0" height="2.0" fill="#EDAC2A"/>
<rect x="444.8" y="145.7" width="2.0" height="2.0" fill="#EDAC2A"/>
<rect x="455" y="134" width="2.0" height="2.0" fill="#EDAC2A"/>
<rect x="454.3" y="145" width="2.0" height="2.0" fill="#EDAC2A"/>
<rect x="454.3" y="154.5" width="2.0" height="2.0" fill="#EDAC2A"/>
<rect x="450" y="165.4" width="2.0" height="2.0" fill="#EDAC2A"/>
<rect x="463" y="147.5" width="2.0" height="2.0" fill="#EDAC2A"/>
<rect x="462.4" y="158.9" width="2.0" height="2.0" fill="#EDAC2A"/>
<rect x="484.3" y="126" width="2.0" height="2.0" fill="#EDAC2A"/>
<rect x="487.2" y="136.2" width="2.0" height="2.0" fill="#EDAC2A"/>
<rect x="490.1" y="141.3" width="2.0" height="2.0" fill="#EDAC2A"/>
<rect x="486.4" y="158.9" width="2.0" height="2.0" fill="#EDAC2A"/>
<rect x="499.6" y="110" width="2.0" height="2.0" fill="#EDAC2A"/>
<rect x="499.6" y="117.2" width="2.0" height="2.0" fill="#EDAC2A"/>
<rect x="506.2" y="129.4" width="2.0" height="2.0" fill="#EDAC2A"/>
<rect x="500.3" y="145.7" width="2.0" height="2.0" fill="#EDAC2A"/>
<rect x="527.3" y="118" width="2.0" height="2.0" fill="#EDAC2A"/>
<rect x="532.4" y="121.6" width="2.0" height="2.0" fill="#EDAC2A"/>
<rect x="517.1" y="123.8" width="2.0" height="2.0" fill="#EDAC2A"/>
<rect x="525.1" y="126" width="2.0" height="2.0" fill="#EDAC2A"/>
<rect x="531.7" y="127.5" width="2.0" height="2.0" fill="#EDAC2A"/>
<rect x="541.9" y="105.1" width="2.0" height="2.0" fill="#EDAC2A"/>
<rect x="549.2" y="106.3" width="2.0" height="2.0" fill="#EDAC2A"/>
<rect x="562.4" y="99.7" width="2.0" height="2.0" fill="#EDAC2A"/>
<rect x="567.5" y="101.2" width="2.0" height="2.0" fill="#EDAC2A"/>
<rect x="581.3" y="111.8" width="2.0" height="2.0" fill="#EDAC2A"/>
<rect x="614.9" y="101.9" width="2.0" height="2.0" fill="#EDAC2A"/>
<rect x="581.3" y="127.5" width="2.0" height="2.0" fill="#EDAC2A"/>
<rect x="593.3" y="128.9" width="2.0" height="2.0" fill="#EDAC2A"/>
<rect x="599.6" y="128.9" width="2.0" height="2.0" fill="#EDAC2A"/>
<rect x="550" y="141.3" width="2.0" height="2.0" fill="#EDAC2A"/>
<rect x="581.3" y="138.4" width="2.0" height="2.0" fill="#EDAC2A"/>
<rect x="552.9" y="156.7" width="2.0" height="2.0" fill="#EDAC2A"/>
<rect x="562.4" y="166.4" width="2.0" height="2.0" fill="#EDAC2A"/>
<rect x="619.3" y="155.2" width="2.0" height="2.0" fill="#EDAC2A"/>
<rect x="664.3" y="107.2" width="2.0" height="2.0" fill="#EDAC2A"/>
<rect x="680.8" y="139" width="2.0" height="2.0" fill="#EDAC2A"/>
<rect x="534.8" y="95.8" width="2.0" height="2.0" fill="#EDAC2A"/>
<rect x="586.8" y="85.2" width="2.0" height="2.0" fill="#EDAC2A"/>
<rect x="448.5" y="166" width="2.0" height="2.0" fill="#EDAC2A"/>
<rect x="452.9" y="174.2" width="2.0" height="2.0" fill="#EDAC2A"/>
<rect x="441.9" y="174.2" width="2.0" height="2.0" fill="#EDAC2A"/>
<rect x="439.7" y="179.3" width="2.0" height="2.0" fill="#EDAC2A"/>
<rect x="450" y="177.9" width="2.0" height="2.0" fill="#EDAC2A"/>
<rect x="470.4" y="186.6" width="2.0" height="2.0" fill="#EDAC2A"/>
<rect x="465.7" y="204.1" width="2.0" height="2.0" fill="#EDAC2A"/>
<rect x="477.7" y="199" width="2.0" height="2.0" fill="#EDAC2A"/>
<rect x="502.1" y="171.3" width="2.0" height="2.0" fill="#EDAC2A"/>
<rect x="562.3" y="166.6" width="2.0" height="2.0" fill="#EDAC2A"/>
<rect x="566.1" y="188.3" width="2.0" height="2.0" fill="#EDAC2A"/>
<rect x="634.7" y="215.4" width="2.0" height="2.0" fill="#EDAC2A"/>
<rect x="647.6" y="202.5" width="2.0" height="2.0" fill="#EDAC2A"/>
<rect x="394.4" y="174.1" width="2.0" height="2.0" fill="#EDAC2A"/>
<rect x="410.6" y="164" width="2.0" height="2.0" fill="#EDAC2A"/>
<rect x="408.5" y="173.3" width="2.0" height="2.0" fill="#EDAC2A"/>
<rect x="426.8" y="162.8" width="2.0" height="2.0" fill="#EDAC2A"/>
<rect x="442.2" y="174.1" width="2.0" height="2.0" fill="#EDAC2A"/>
<rect x="434.7" y="179.4" width="2.0" height="2.0" fill="#EDAC2A"/>
<rect x="439.5" y="179.4" width="2.0" height="2.0" fill="#EDAC2A"/>
<rect x="426.8" y="227.5" width="2.0" height="2.0" fill="#EDAC2A"/>
<rect x="429.9" y="205.8" width="2.0" height="2.0" fill="#EDAC2A"/>
<rect x="418.5" y="218.8" width="2.0" height="2.0" fill="#EDAC2A"/>
<rect x="409.24" y="211.67" width="2.0" height="2.0" fill="#EDAC2A"/>
<rect x="403.31" y="208.73" width="2.0" height="2.0" fill="#EDAC2A"/>
<rect x="407.48" y="203.59" width="2.0" height="2.0" fill="#EDAC2A"/>
<rect x="407.57" y="225.55" width="2.0" height="2.0" fill="#EDAC2A"/>
<rect x="405.12" y="226.95" width="2.0" height="2.0" fill="#EDAC2A"/>
<rect x="406.09" y="212.32" width="2.0" height="2.0" fill="#EDAC2A"/>
<rect x="412.01" y="211.11" width="2.0" height="2.0" fill="#EDAC2A"/>
<rect x="414.89" y="213.95" width="2.0" height="2.0" fill="#EDAC2A"/>
<rect x="406.41" y="214.3" width="2.0" height="2.0" fill="#EDAC2A"/>
<rect x="402.57" y="212.99" width="2.0" height="2.0" fill="#EDAC2A"/>
<rect x="412.84" y="215.11" width="2.0" height="2.0" fill="#EDAC2A"/>
<rect x="405.8" y="205.71" width="2.0" height="2.0" fill="#EDAC2A"/>
<rect x="396.09" y="212.23" width="2.0" height="2.0" fill="#EDAC2A"/>
<rect x="417.02" y="209.69" width="2.0" height="2.0" fill="#EDAC2A"/>
<rect x="403.19" y="219.36" width="2.0" height="2.0" fill="#EDAC2A"/>
<rect x="403.58" y="226.88" width="2.0" height="2.0" fill="#EDAC2A"/>
<rect x="398.41" y="199.65" width="2.0" height="2.0" fill="#EDAC2A"/>
<rect x="413.13" y="205.37" width="2.0" height="2.0" fill="#EDAC2A"/>
<rect x="399.58" y="208.41" width="2.0" height="2.0" fill="#EDAC2A"/>
<rect x="409.55" y="231" width="2.0" height="2.0" fill="#EDAC2A"/>
<rect x="412.57" y="213.3" width="2.0" height="2.0" fill="#EDAC2A"/>
<rect x="410.83" y="208.18" width="2.0" height="2.0" fill="#EDAC2A"/>
<rect x="419.91" y="226.41" width="2.0" height="2.0" fill="#EDAC2A"/>
<rect x="401.22" y="218.9" width="2.0" height="2.0" fill="#EDAC2A"/>
<rect x="408.94" y="218.7" width="2.0" height="2.0" fill="#EDAC2A"/>
<rect x="421" y="212.33" width="2.0" height="2.0" fill="#EDAC2A"/>
<rect x="409.19" y="212.25" width="2.0" height="2.0" fill="#EDAC2A"/>
<rect x="410.78" y="229.9" width="2.0" height="2.0" fill="#EDAC2A"/>
<rect x="405.67" y="204.21" width="2.0" height="2.0" fill="#EDAC2A"/>
<rect x="407.87" y="204.22" width="2.0" height="2.0" fill="#EDAC2A"/>
<rect x="403.44" y="218.37" width="2.0" height="2.0" fill="#EDAC2A"/>
<rect x="405.57" y="215.84" width="2.0" height="2.0" fill="#EDAC2A"/>
<rect x="414.51" y="199.27" width="2.0" height="2.0" fill="#EDAC2A"/>
<rect x="417.08" y="210.74" width="2.0" height="2.0" fill="#EDAC2A"/>
<rect x="415.04" y="216.87" width="2.0" height="2.0" fill="#EDAC2A"/>
<rect x="406.63" y="209.44" width="2.0" height="2.0" fill="#EDAC2A"/>
<rect x="402.13" y="205.69" width="2.0" height="2.0" fill="#EDAC2A"/>
<rect x="393.45" y="213.5" width="2.0" height="2.0" fill="#EDAC2A"/>
<rect x="395.57" y="204.75" width="2.0" height="2.0" fill="#EDAC2A"/>
<rect x="401.43" y="204.4" width="2.0" height="2.0" fill="#EDAC2A"/>
<rect x="408.2" y="214.42" width="2.0" height="2.0" fill="#EDAC2A"/>
<rect x="413.15" y="205.83" width="2.0" height="2.0" fill="#EDAC2A"/>
<rect x="416.68" y="229.87" width="2.0" height="2.0" fill="#EDAC2A"/>
<rect x="408.75" y="213.96" width="2.0" height="2.0" fill="#EDAC2A"/>
<rect x="399.68" y="211.71" width="2.0" height="2.0" fill="#EDAC2A"/>
<rect x="408.77" y="215.22" width="2.0" height="2.0" fill="#EDAC2A"/>
<rect x="405.9" y="195" width="2.0" height="2.0" fill="#EDAC2A"/>
<rect x="402.24" y="224.82" width="2.0" height="2.0" fill="#EDAC2A"/>
<rect x="414.46" y="207.43" width="2.0" height="2.0" fill="#EDAC2A"/>
<rect x="404.26" y="208.9" width="2.0" height="2.0" fill="#EDAC2A"/>
<rect x="409.26" y="220.69" width="2.0" height="2.0" fill="#EDAC2A"/>
<rect x="406.7" y="221.7" width="2.0" height="2.0" fill="#EDAC2A"/>
<rect x="408.64" y="227.03" width="2.0" height="2.0" fill="#EDAC2A"/>
<rect x="396.22" y="219.66" width="2.0" height="2.0" fill="#EDAC2A"/>
<rect x="405.25" y="210.89" width="2.0" height="2.0" fill="#EDAC2A"/>
<rect x="408.32" y="225.64" width="2.0" height="2.0" fill="#EDAC2A"/>
<rect x="406.59" y="212.94" width="2.0" height="2.0" fill="#EDAC2A"/>
<rect x="402.09" y="208.96" width="2.0" height="2.0" fill="#EDAC2A"/>
<rect x="408.95" y="207.9" width="2.0" height="2.0" fill="#EDAC2A"/>
<rect x="401.01" y="226.69" width="2.0" height="2.0" fill="#EDAC2A"/>
<rect x="406.98" y="204.63" width="2.0" height="2.0" fill="#EDAC2A"/>
<rect x="404.6" y="206.91" width="2.0" height="2.0" fill="#EDAC2A"/>
<rect x="400.27" y="222.11" width="2.0" height="2.0" fill="#EDAC2A"/>
<rect x="399.84" y="213.38" width="2.0" height="2.0" fill="#EDAC2A"/>
<rect x="409.06" y="216.12" width="2.0" height="2.0" fill="#EDAC2A"/>
<rect x="428.33" y="197.81" width="2.0" height="2.0" fill="#EDAC2A"/>
<rect x="424.98" y="187.31" width="2.0" height="2.0" fill="#EDAC2A"/>
<rect x="416.37" y="204.87" width="2.0" height="2.0" fill="#EDAC2A"/>
<rect x="393.46" y="204.14" width="2.0" height="2.0" fill="#EDAC2A"/>
<rect x="391.04" y="227.83" width="2.0" height="2.0" fill="#EDAC2A"/>
<rect x="391.07" y="229.99" width="2.0" height="2.0" fill="#EDAC2A"/>
<rect x="391.86" y="227.41" width="2.0" height="2.0" fill="#EDAC2A"/>
<rect x="395.94" y="197.99" width="2.0" height="2.0" fill="#EDAC2A"/>
<rect x="424.88" y="170.4" width="2.0" height="2.0" fill="#EDAC2A"/>
<rect x="419.62" y="171.87" width="2.0" height="2.0" fill="#EDAC2A"/>
<rect x="422.18" y="173.21" width="2.0" height="2.0" fill="#EDAC2A"/>
<rect x="418.97" y="165.04" width="2.0" height="2.0" fill="#EDAC2A"/>
<rect x="419.71" y="169.65" width="2.0" height="2.0" fill="#EDAC2A"/>
<rect x="428.69" y="171.17" width="2.0" height="2.0" fill="#EDAC2A"/>
<rect x="433" y="174.15" width="2.0" height="2.0" fill="#EDAC2A"/>
<rect x="407.15" y="178.01" width="2.0" height="2.0" fill="#EDAC2A"/>
<rect x="421.71" y="188.94" width="2.0" height="2.0" fill="#EDAC2A"/>
<rect x="403.38" y="187.46" width="2.0" height="2.0" fill="#EDAC2A"/>
<rect x="423.75" y="181.69" width="2.0" height="2.0" fill="#EDAC2A"/>
<rect x="408.85" y="179.65" width="2.0" height="2.0" fill="#EDAC2A"/>
<rect x="422.36" y="185.78" width="2.0" height="2.0" fill="#EDAC2A"/>
<rect x="412.29" y="182.41" width="2.0" height="2.0" fill="#EDAC2A"/>
<rect x="422.96" y="187.65" width="2.0" height="2.0" fill="#EDAC2A"/>
<rect x="393.39" y="189.84" width="2.0" height="2.0" fill="#EDAC2A"/>
<rect x="390.7" y="193.12" width="2.0" height="2.0" fill="#EDAC2A"/>
<line x1="390.0" y1="233.1" x2="681.6" y2="3.4000000000000057" stroke="#999" stroke-width="0.9" stroke-dasharray="4.5 3"/>
<line x1="390" y1="197.04" x2="681.6" y2="119.86" stroke="#8FBCE6" stroke-width="2"/>
<line x1="390" y1="214.72" x2="681.6" y2="94.13" stroke="#1070BE" stroke-width="2"/>
<line x1="390" y1="203.01" x2="681.6" y2="106.99" stroke="#2BB29A" stroke-width="2"/>
<line x1="390" y1="201.17" x2="681.6" y2="102.86" stroke="#E8292F" stroke-width="2"/>
<line x1="390" y1="211.97" x2="681.6" y2="68.86" stroke="#AE4A22" stroke-width="2"/>
<line x1="390" y1="204.62" x2="681.6" y2="87.7" stroke="#EDAC2A" stroke-width="2"/>
</g>
<rect x="390.0" y="3.4" width="291.6" height="229.7" fill="none" stroke="#5e5e5e" stroke-width="0.9"/>
<line x1="390.0" y1="233.1" x2="393.0" y2="233.1" stroke="#5e5e5e" stroke-width="0.9"/>
<line x1="681.6" y1="233.1" x2="678.6" y2="233.1" stroke="#5e5e5e" stroke-width="0.9"/>
<text x="386" y="236.3" font-size="9.0" text-anchor="end" fill="#3a3a3a" >0</text>
<line x1="390.0" y1="210.13" x2="393.0" y2="210.13" stroke="#5e5e5e" stroke-width="0.9"/>
<line x1="681.6" y1="210.13" x2="678.6" y2="210.13" stroke="#5e5e5e" stroke-width="0.9"/>
<text x="386" y="213.33" font-size="9.0" text-anchor="end" fill="#3a3a3a" >0.1</text>
<line x1="390.0" y1="187.16" x2="393.0" y2="187.16" stroke="#5e5e5e" stroke-width="0.9"/>
<line x1="681.6" y1="187.16" x2="678.6" y2="187.16" stroke="#5e5e5e" stroke-width="0.9"/>
<text x="386" y="190.36" font-size="9.0" text-anchor="end" fill="#3a3a3a" >0.2</text>
<line x1="390.0" y1="164.19" x2="393.0" y2="164.19" stroke="#5e5e5e" stroke-width="0.9"/>
<line x1="681.6" y1="164.19" x2="678.6" y2="164.19" stroke="#5e5e5e" stroke-width="0.9"/>
<text x="386" y="167.39" font-size="9.0" text-anchor="end" fill="#3a3a3a" >0.3</text>
<line x1="390.0" y1="141.22" x2="393.0" y2="141.22" stroke="#5e5e5e" stroke-width="0.9"/>
<line x1="681.6" y1="141.22" x2="678.6" y2="141.22" stroke="#5e5e5e" stroke-width="0.9"/>
<text x="386" y="144.42" font-size="9.0" text-anchor="end" fill="#3a3a3a" >0.4</text>
<line x1="390.0" y1="118.25" x2="393.0" y2="118.25" stroke="#5e5e5e" stroke-width="0.9"/>
<line x1="681.6" y1="118.25" x2="678.6" y2="118.25" stroke="#5e5e5e" stroke-width="0.9"/>
<text x="386" y="121.45" font-size="9.0" text-anchor="end" fill="#3a3a3a" >0.5</text>
<line x1="390.0" y1="95.28" x2="393.0" y2="95.28" stroke="#5e5e5e" stroke-width="0.9"/>
<line x1="681.6" y1="95.28" x2="678.6" y2="95.28" stroke="#5e5e5e" stroke-width="0.9"/>
<text x="386" y="98.48" font-size="9.0" text-anchor="end" fill="#3a3a3a" >0.6</text>
<line x1="390.0" y1="72.31" x2="393.0" y2="72.31" stroke="#5e5e5e" stroke-width="0.9"/>
<line x1="681.6" y1="72.31" x2="678.6" y2="72.31" stroke="#5e5e5e" stroke-width="0.9"/>
<text x="386" y="75.51" font-size="9.0" text-anchor="end" fill="#3a3a3a" >0.7</text>
<line x1="390.0" y1="49.34" x2="393.0" y2="49.34" stroke="#5e5e5e" stroke-width="0.9"/>
<line x1="681.6" y1="49.34" x2="678.6" y2="49.34" stroke="#5e5e5e" stroke-width="0.9"/>
<text x="386" y="52.54" font-size="9.0" text-anchor="end" fill="#3a3a3a" >0.8</text>
<line x1="390.0" y1="26.37" x2="393.0" y2="26.37" stroke="#5e5e5e" stroke-width="0.9"/>
<line x1="681.6" y1="26.37" x2="678.6" y2="26.37" stroke="#5e5e5e" stroke-width="0.9"/>
<text x="386" y="29.57" font-size="9.0" text-anchor="end" fill="#3a3a3a" >0.9</text>
<line x1="390.0" y1="3.4" x2="393.0" y2="3.4" stroke="#5e5e5e" stroke-width="0.9"/>
<line x1="681.6" y1="3.4" x2="678.6" y2="3.4" stroke="#5e5e5e" stroke-width="0.9"/>
<text x="386" y="6.6" font-size="9.0" text-anchor="end" fill="#3a3a3a" >1</text>
<line x1="390" y1="233.1" x2="390" y2="230.1" stroke="#5e5e5e" stroke-width="0.9"/>
<line x1="390" y1="3.4" x2="390" y2="6.4" stroke="#5e5e5e" stroke-width="0.9"/>
<text x="390" y="245.8" font-size="9.0" text-anchor="middle" fill="#3a3a3a" >0</text>
<line x1="448.32" y1="233.1" x2="448.32" y2="230.1" stroke="#5e5e5e" stroke-width="0.9"/>
<line x1="448.32" y1="3.4" x2="448.32" y2="6.4" stroke="#5e5e5e" stroke-width="0.9"/>
<text x="448.32" y="245.8" font-size="9.0" text-anchor="middle" fill="#3a3a3a" >0.2</text>
<line x1="506.64" y1="233.1" x2="506.64" y2="230.1" stroke="#5e5e5e" stroke-width="0.9"/>
<line x1="506.64" y1="3.4" x2="506.64" y2="6.4" stroke="#5e5e5e" stroke-width="0.9"/>
<text x="506.64" y="245.8" font-size="9.0" text-anchor="middle" fill="#3a3a3a" >0.4</text>
<line x1="564.96" y1="233.1" x2="564.96" y2="230.1" stroke="#5e5e5e" stroke-width="0.9"/>
<line x1="564.96" y1="3.4" x2="564.96" y2="6.4" stroke="#5e5e5e" stroke-width="0.9"/>
<text x="564.96" y="245.8" font-size="9.0" text-anchor="middle" fill="#3a3a3a" >0.6</text>
<line x1="623.28" y1="233.1" x2="623.28" y2="230.1" stroke="#5e5e5e" stroke-width="0.9"/>
<line x1="623.28" y1="3.4" x2="623.28" y2="6.4" stroke="#5e5e5e" stroke-width="0.9"/>
<text x="623.28" y="245.8" font-size="9.0" text-anchor="middle" fill="#3a3a3a" >0.8</text>
<line x1="681.6" y1="233.1" x2="681.6" y2="230.1" stroke="#5e5e5e" stroke-width="0.9"/>
<line x1="681.6" y1="3.4" x2="681.6" y2="6.4" stroke="#5e5e5e" stroke-width="0.9"/>
<text x="681.6" y="245.8" font-size="9.0" text-anchor="middle" fill="#3a3a3a" >1</text>
<text x="535.7" y="259.7" font-size="10" text-anchor="middle" fill="#3a3a3a" >Actual Values</text>
<text transform="translate(369.6,118) rotate(-90)" font-size="10" text-anchor="middle" fill="#3a3a3a">Predicted Values</text>
<text x="643.3" y="24.2" font-size="17.5" fill="#111">(b)</text>
<rect x="410.4" y="14.2" width="104.9" height="92.4" fill="#fff" stroke="#8a8a8a" stroke-width="0.8"/>
<line x1="413.1" y1="22.8" x2="439.7" y2="22.8" stroke="#8FBCE6" stroke-width="2"/>
<text x="442.1" y="26.1" font-size="8.1" fill="#3a3a3a">DT, R<tspan font-size="6.6" dy="-4">2</tspan><tspan dy="4"> = 0.071638</tspan></text>
<line x1="413.1" y1="35.7" x2="439.7" y2="35.7" stroke="#1070BE" stroke-width="2"/>
<text x="442.1" y="39" font-size="8.1" fill="#3a3a3a">DNN, R<tspan font-size="6.6" dy="-4">2</tspan><tspan dy="4"> = 0.55338</tspan></text>
<line x1="413.1" y1="48.7" x2="439.7" y2="48.7" stroke="#2BB29A" stroke-width="2"/>
<text x="442.1" y="52" font-size="8.1" fill="#3a3a3a">RDG, R<tspan font-size="6.6" dy="-4">2</tspan><tspan dy="4"> = 0.46118</tspan></text>
<line x1="413.1" y1="62.0" x2="439.7" y2="62.0" stroke="#E8292F" stroke-width="2"/>
<text x="442.1" y="65.3" font-size="8.1" fill="#3a3a3a">RF, R<tspan font-size="6.6" dy="-4">2</tspan><tspan dy="4"> = 0.48082</tspan></text>
<line x1="413.1" y1="75.3" x2="439.7" y2="75.3" stroke="#AE4A22" stroke-width="2"/>
<text x="442.1" y="78.6" font-size="8.1" fill="#3a3a3a">SVR, R<tspan font-size="6.6" dy="-4">2</tspan><tspan dy="4"> = 0.53129</tspan></text>
<line x1="413.1" y1="88.6" x2="439.7" y2="88.6" stroke="#EDAC2A" stroke-width="2"/>
<text x="442.1" y="91.9" font-size="8.1" fill="#3a3a3a">XGB, R<tspan font-size="6.6" dy="-4">2</tspan><tspan dy="4"> = 0.47201</tspan></text>
<line x1="413.1" y1="100.4" x2="439.7" y2="100.4" stroke="#a8a8a8" stroke-width="0.8" stroke-dasharray="4 3"/>
<text x="442.1" y="103.5" font-size="8.1" fill="#3a3a3a">Actual = Predicted</text>
</g>
<g id="pc">
<line x1="56.8" y1="477.6" x2="56.8" y2="485.2" stroke="#7a7a7a" stroke-width="1.1" stroke-dasharray="2.5 1.5"/>
<line x1="56.8" y1="508.4" x2="56.8" y2="516.1" stroke="#7a7a7a" stroke-width="1.1" stroke-dasharray="2.5 1.5"/>
<line x1="50.7" y1="477.6" x2="62.9" y2="477.6" stroke="#808080" stroke-width="1.3"/>
<line x1="50.7" y1="516.1" x2="62.9" y2="516.1" stroke="#808080" stroke-width="1.3"/>
<rect x="44.7" y="485.2" width="24.2" height="23.2" fill="#BAD5EE" stroke="#5a5a5a" stroke-width="0.9"/>
<line x1="44.7" y1="492.3" x2="68.9" y2="492.3" stroke="#D87790" stroke-width="0.9"/>
<line x1="105.3" y1="338.5" x2="105.3" y2="353.1" stroke="#7a7a7a" stroke-width="1.1" stroke-dasharray="2.5 1.5"/>
<line x1="105.3" y1="372.3" x2="105.3" y2="372.7" stroke="#7a7a7a" stroke-width="1.1" stroke-dasharray="2.5 1.5"/>
<line x1="99.2" y1="338.5" x2="111.4" y2="338.5" stroke="#808080" stroke-width="1.3"/>
<line x1="99.2" y1="372.7" x2="111.4" y2="372.7" stroke="#808080" stroke-width="1.3"/>
<rect x="93.2" y="353.1" width="24.2" height="19.2" fill="#5FA8DE" stroke="#5a5a5a" stroke-width="0.9"/>
<line x1="93.2" y1="364.8" x2="117.4" y2="364.8" stroke="#6680BC" stroke-width="0.9"/>
<line x1="153.8" y1="389.5" x2="153.8" y2="396.2" stroke="#7a7a7a" stroke-width="1.1" stroke-dasharray="2.5 1.5"/>
<line x1="153.8" y1="407.5" x2="153.8" y2="413.2" stroke="#7a7a7a" stroke-width="1.1" stroke-dasharray="2.5 1.5"/>
<line x1="147.7" y1="389.5" x2="159.9" y2="389.5" stroke="#808080" stroke-width="1.3"/>
<line x1="147.7" y1="413.2" x2="159.9" y2="413.2" stroke="#808080" stroke-width="1.3"/>
<rect x="141.7" y="396.2" width="24.2" height="11.3" fill="#77CBBA" stroke="#5a5a5a" stroke-width="0.9"/>
<line x1="141.7" y1="404.3" x2="165.9" y2="404.3" stroke="#56A08E" stroke-width="0.9"/>
<line x1="202.3" y1="382.1" x2="202.3" y2="388.8" stroke="#7a7a7a" stroke-width="1.1" stroke-dasharray="2.5 1.5"/>
<line x1="202.3" y1="405.8" x2="202.3" y2="406.8" stroke="#7a7a7a" stroke-width="1.1" stroke-dasharray="2.5 1.5"/>
<line x1="196.2" y1="382.1" x2="208.4" y2="382.1" stroke="#808080" stroke-width="1.3"/>
<line x1="196.2" y1="406.8" x2="208.4" y2="406.8" stroke="#808080" stroke-width="1.3"/>
<rect x="190.2" y="388.8" width="24.2" height="17" fill="#EE7377" stroke="#5a5a5a" stroke-width="0.9"/>
<line x1="190.2" y1="397.4" x2="214.4" y2="397.4" stroke="#E03A3E" stroke-width="0.9"/>
<line x1="250.8" y1="359.2" x2="250.8" y2="361.9" stroke="#7a7a7a" stroke-width="1.1" stroke-dasharray="2.5 1.5"/>
<line x1="250.8" y1="390.3" x2="250.8" y2="392.3" stroke="#7a7a7a" stroke-width="1.1" stroke-dasharray="2.5 1.5"/>
<line x1="244.7" y1="359.2" x2="256.9" y2="359.2" stroke="#808080" stroke-width="1.3"/>
<line x1="244.7" y1="392.3" x2="256.9" y2="392.3" stroke="#808080" stroke-width="1.3"/>
<rect x="238.7" y="361.9" width="24.2" height="28.4" fill="#D49A82" stroke="#5a5a5a" stroke-width="0.9"/>
<line x1="238.7" y1="364.3" x2="262.9" y2="364.3" stroke="#E55F3A" stroke-width="0.9"/>
<line x1="299.3" y1="376.6" x2="299.3" y2="378.2" stroke="#7a7a7a" stroke-width="1.1" stroke-dasharray="2.5 1.5"/>
<line x1="299.3" y1="399.0" x2="299.3" y2="401.7" stroke="#7a7a7a" stroke-width="1.1" stroke-dasharray="2.5 1.5"/>
<line x1="293.2" y1="376.6" x2="305.4" y2="376.6" stroke="#808080" stroke-width="1.3"/>
<line x1="293.2" y1="401.7" x2="305.4" y2="401.7" stroke="#808080" stroke-width="1.3"/>
<rect x="287.2" y="378.2" width="24.2" height="20.8" fill="#F4D489" stroke="#5a5a5a" stroke-width="0.9"/>
<line x1="287.2" y1="388.2" x2="311.4" y2="388.2" stroke="#EFA070" stroke-width="0.9"/>
<rect x="32.5" y="286.5" width="291.1" height="229" fill="none" stroke="#5e5e5e" stroke-width="0.9"/>
<line x1="32.5" y1="500.1" x2="35.5" y2="500.1" stroke="#5e5e5e" stroke-width="0.9"/>
<line x1="323.6" y1="500.1" x2="320.6" y2="500.1" stroke="#5e5e5e" stroke-width="0.9"/>
<text x="28.3" y="503.3" font-size="9.0" text-anchor="end" fill="#3a3a3a" >0.2</text>
<line x1="32.5" y1="473.4" x2="35.5" y2="473.4" stroke="#5e5e5e" stroke-width="0.9"/>
<line x1="323.6" y1="473.4" x2="320.6" y2="473.4" stroke="#5e5e5e" stroke-width="0.9"/>
<text x="28.3" y="476.6" font-size="9.0" text-anchor="end" fill="#3a3a3a" >0.3</text>
<line x1="32.5" y1="446.7" x2="35.5" y2="446.7" stroke="#5e5e5e" stroke-width="0.9"/>
<line x1="323.6" y1="446.7" x2="320.6" y2="446.7" stroke="#5e5e5e" stroke-width="0.9"/>
<text x="28.3" y="449.9" font-size="9.0" text-anchor="end" fill="#3a3a3a" >0.4</text>
<line x1="32.5" y1="420" x2="35.5" y2="420" stroke="#5e5e5e" stroke-width="0.9"/>
<line x1="323.6" y1="420" x2="320.6" y2="420" stroke="#5e5e5e" stroke-width="0.9"/>
<text x="28.3" y="423.2" font-size="9.0" text-anchor="end" fill="#3a3a3a" >0.5</text>
<line x1="32.5" y1="393.3" x2="35.5" y2="393.3" stroke="#5e5e5e" stroke-width="0.9"/>
<line x1="323.6" y1="393.3" x2="320.6" y2="393.3" stroke="#5e5e5e" stroke-width="0.9"/>
<text x="28.3" y="396.5" font-size="9.0" text-anchor="end" fill="#3a3a3a" >0.6</text>
<line x1="32.5" y1="366.6" x2="35.5" y2="366.6" stroke="#5e5e5e" stroke-width="0.9"/>
<line x1="323.6" y1="366.6" x2="320.6" y2="366.6" stroke="#5e5e5e" stroke-width="0.9"/>
<text x="28.3" y="369.8" font-size="9.0" text-anchor="end" fill="#3a3a3a" >0.7</text>
<line x1="32.5" y1="339.9" x2="35.5" y2="339.9" stroke="#5e5e5e" stroke-width="0.9"/>
<line x1="323.6" y1="339.9" x2="320.6" y2="339.9" stroke="#5e5e5e" stroke-width="0.9"/>
<text x="28.3" y="343.1" font-size="9.0" text-anchor="end" fill="#3a3a3a" >0.8</text>
<line x1="32.5" y1="313.2" x2="35.5" y2="313.2" stroke="#5e5e5e" stroke-width="0.9"/>
<line x1="323.6" y1="313.2" x2="320.6" y2="313.2" stroke="#5e5e5e" stroke-width="0.9"/>
<text x="28.3" y="316.4" font-size="9.0" text-anchor="end" fill="#3a3a3a" >0.9</text>
<line x1="32.5" y1="286.5" x2="35.5" y2="286.5" stroke="#5e5e5e" stroke-width="0.9"/>
<line x1="323.6" y1="286.5" x2="320.6" y2="286.5" stroke="#5e5e5e" stroke-width="0.9"/>
<text x="28.3" y="289.7" font-size="9.0" text-anchor="end" fill="#3a3a3a" >1</text>
<line x1="56.8" y1="515.5" x2="56.8" y2="512.5" stroke="#5e5e5e" stroke-width="0.9"/>
<line x1="56.8" y1="286.5" x2="56.8" y2="289.5" stroke="#5e5e5e" stroke-width="0.9"/>
<text x="56.8" y="528.6" font-size="9.0" text-anchor="middle" fill="#3a3a3a" >DT</text>
<line x1="105.3" y1="515.5" x2="105.3" y2="512.5" stroke="#5e5e5e" stroke-width="0.9"/>
<line x1="105.3" y1="286.5" x2="105.3" y2="289.5" stroke="#5e5e5e" stroke-width="0.9"/>
<text x="105.3" y="528.6" font-size="9.0" text-anchor="middle" fill="#3a3a3a" >DNN</text>
<line x1="153.8" y1="515.5" x2="153.8" y2="512.5" stroke="#5e5e5e" stroke-width="0.9"/>
<line x1="153.8" y1="286.5" x2="153.8" y2="289.5" stroke="#5e5e5e" stroke-width="0.9"/>
<text x="153.8" y="528.6" font-size="9.0" text-anchor="middle" fill="#3a3a3a" >RDG</text>
<line x1="202.3" y1="515.5" x2="202.3" y2="512.5" stroke="#5e5e5e" stroke-width="0.9"/>
<line x1="202.3" y1="286.5" x2="202.3" y2="289.5" stroke="#5e5e5e" stroke-width="0.9"/>
<text x="202.3" y="528.6" font-size="9.0" text-anchor="middle" fill="#3a3a3a" >RF</text>
<line x1="250.8" y1="515.5" x2="250.8" y2="512.5" stroke="#5e5e5e" stroke-width="0.9"/>
<line x1="250.8" y1="286.5" x2="250.8" y2="289.5" stroke="#5e5e5e" stroke-width="0.9"/>
<text x="250.8" y="528.6" font-size="9.0" text-anchor="middle" fill="#3a3a3a" >SVR</text>
<line x1="299.3" y1="515.5" x2="299.3" y2="512.5" stroke="#5e5e5e" stroke-width="0.9"/>
<line x1="299.3" y1="286.5" x2="299.3" y2="289.5" stroke="#5e5e5e" stroke-width="0.9"/>
<text x="299.3" y="528.6" font-size="9.0" text-anchor="middle" fill="#3a3a3a" >XGB</text>
<text transform="translate(10.2,401.3) rotate(-90)" font-size="9.6" text-anchor="middle" fill="#3a3a3a">R<tspan font-size="7" dy="-4.3" dx="0.4">2</tspan></text>
<text x="291.5" y="500.6" font-size="17.5" fill="#111">(c)</text>
</g>
<g id="pd">
<polygon points="490,394.37 502.67,401.68 502.67,416.32 490,423.63 477.33,416.32 477.33,401.68" fill="none" stroke="#c8c8c8" stroke-opacity="0.75" stroke-width="0.8"/>
<polygon points="490,379.73 515.35,394.37 515.35,423.63 490,438.27 464.65,423.63 464.65,394.37" fill="none" stroke="#c8c8c8" stroke-opacity="0.75" stroke-width="0.8"/>
<polygon points="490,365.1 528.02,387.05 528.02,430.95 490,452.9 451.98,430.95 451.98,387.05" fill="none" stroke="#c8c8c8" stroke-opacity="0.75" stroke-width="0.8"/>
<polygon points="490,350.47 540.69,379.73 540.69,438.27 490,467.53 439.31,438.27 439.31,379.73" fill="none" stroke="#c8c8c8" stroke-opacity="0.75" stroke-width="0.8"/>
<polygon points="490,335.83 553.36,372.42 553.36,445.58 490,482.17 426.64,445.58 426.64,372.42" fill="none" stroke="#c8c8c8" stroke-opacity="0.75" stroke-width="0.8"/>
<polygon points="490,321.2 566.04,365.1 566.04,452.9 490,496.8 413.96,452.9 413.96,365.1" fill="none" stroke="#c8c8c8" stroke-opacity="0.75" stroke-width="0.8"/>
<line x1="490.0" y1="409.0" x2="490" y2="321.2" stroke="#c4c4c4" stroke-opacity="0.85" stroke-width="1.5"/>
<line x1="490.0" y1="409.0" x2="566.04" y2="365.1" stroke="#c4c4c4" stroke-opacity="0.85" stroke-width="1.5"/>
<line x1="490.0" y1="409.0" x2="566.04" y2="452.9" stroke="#c4c4c4" stroke-opacity="0.85" stroke-width="1.5"/>
<line x1="490.0" y1="409.0" x2="490" y2="496.8" stroke="#c4c4c4" stroke-opacity="0.85" stroke-width="1.5"/>
<line x1="490.0" y1="409.0" x2="413.96" y2="452.9" stroke="#c4c4c4" stroke-opacity="0.85" stroke-width="1.5"/>
<line x1="490.0" y1="409.0" x2="413.96" y2="365.1" stroke="#c4c4c4" stroke-opacity="0.85" stroke-width="1.5"/>
<polygon points="490,386.9 533.99,383.6 521.78,427.35 490,453.6 451.29,431.35 451.81,386.95" fill="#E1A528" fill-opacity="0.28" stroke="none"/>
<polygon points="490,388.5 538.93,380.75 532.26,433.4 490,459.5 443.67,435.75 446.87,384.1" fill="none" stroke="#8DB9E3" stroke-width="1.5" stroke-linejoin="round"/>
<polygon points="490,361.6 550.54,374.05 547.07,441.95 490,477.9 429.64,443.85 432.06,375.55" fill="none" stroke="#0F6DBC" stroke-width="1.7" stroke-dasharray="1.1 0.9" stroke-linejoin="round"/>
<polygon points="490,328.5 532.87,384.25 546.81,441.8 490,476.5 441.33,437.1 435.87,377.75" fill="none" stroke="#2BB39B" stroke-width="1.1" stroke-linejoin="round"/>
<polygon points="490,328 543.09,378.35 546.81,441.8 490,473.5 436.22,440.05 433.62,376.45" fill="none" stroke="#E8262E" stroke-width="1.2" stroke-dasharray="3.4 1.2 1 1.2" stroke-linejoin="round"/>
<polygon points="490,327.1 537.11,381.8 555.99,447.1 490,486.2 433.88,441.4 427.13,372.7" fill="none" stroke="#B4491F" stroke-width="1.2" stroke-dasharray="3.6 2.6" stroke-linejoin="round"/>
<polygon points="490,386.9 533.99,383.6 521.78,427.35 490,453.6 451.29,431.35 451.81,386.95" fill="none" stroke="#EBAA2B" stroke-width="3.0" stroke-linejoin="round"/>
<circle cx="490" cy="388.5" r="2.8" fill="#8DB9E3"/>
<circle cx="538.93" cy="380.75" r="2.8" fill="#8DB9E3"/>
<circle cx="532.26" cy="433.4" r="2.8" fill="#8DB9E3"/>
<circle cx="490" cy="459.5" r="2.8" fill="#8DB9E3"/>
<circle cx="443.67" cy="435.75" r="2.8" fill="#8DB9E3"/>
<circle cx="446.87" cy="384.1" r="2.8" fill="#8DB9E3"/>
<circle cx="490" cy="361.6" r="2.8" fill="#0F6DBC"/>
<circle cx="550.54" cy="374.05" r="2.8" fill="#0F6DBC"/>
<circle cx="547.07" cy="441.95" r="2.8" fill="#0F6DBC"/>
<circle cx="490" cy="477.9" r="2.8" fill="#0F6DBC"/>
<circle cx="429.64" cy="443.85" r="2.8" fill="#0F6DBC"/>
<circle cx="432.06" cy="375.55" r="2.8" fill="#0F6DBC"/>
<circle cx="490" cy="328.5" r="2.8" fill="#2BB39B"/>
<circle cx="532.87" cy="384.25" r="2.8" fill="#2BB39B"/>
<circle cx="546.81" cy="441.8" r="2.8" fill="#2BB39B"/>
<circle cx="490" cy="476.5" r="2.8" fill="#2BB39B"/>
<circle cx="441.33" cy="437.1" r="2.8" fill="#2BB39B"/>
<circle cx="435.87" cy="377.75" r="2.8" fill="#2BB39B"/>
<circle cx="490" cy="328" r="2.8" fill="#E8262E"/>
<circle cx="543.09" cy="378.35" r="2.8" fill="#E8262E"/>
<circle cx="546.81" cy="441.8" r="2.8" fill="#E8262E"/>
<circle cx="490" cy="473.5" r="2.8" fill="#E8262E"/>
<circle cx="436.22" cy="440.05" r="2.8" fill="#E8262E"/>
<circle cx="433.62" cy="376.45" r="2.8" fill="#E8262E"/>
<circle cx="490" cy="327.1" r="2.8" fill="#B4491F"/>
<circle cx="537.11" cy="381.8" r="2.8" fill="#B4491F"/>
<circle cx="555.99" cy="447.1" r="2.8" fill="#B4491F"/>
<circle cx="490" cy="486.2" r="2.8" fill="#B4491F"/>
<circle cx="433.88" cy="441.4" r="2.8" fill="#B4491F"/>
<circle cx="427.13" cy="372.7" r="2.8" fill="#B4491F"/>
<circle cx="490" cy="386.9" r="3.1" fill="#EBAA2B"/>
<circle cx="533.99" cy="383.6" r="3.1" fill="#EBAA2B"/>
<circle cx="521.78" cy="427.35" r="3.1" fill="#EBAA2B"/>
<circle cx="490" cy="453.6" r="3.1" fill="#EBAA2B"/>
<circle cx="451.29" cy="431.35" r="3.1" fill="#EBAA2B"/>
<circle cx="451.81" cy="386.95" r="3.1" fill="#EBAA2B"/>
<text x="490" y="397.47" font-size="8.9" text-anchor="middle" fill="#2a2a2a" >0.0</text>
<text x="490" y="382.83" font-size="8.9" text-anchor="middle" fill="#2a2a2a" >0.2</text>
<text x="490" y="368.2" font-size="8.9" text-anchor="middle" fill="#2a2a2a" >0.4</text>
<text x="490" y="353.57" font-size="8.9" text-anchor="middle" fill="#2a2a2a" >0.6</text>
<text x="490" y="338.93" font-size="8.9" text-anchor="middle" fill="#2a2a2a" >0.8</text>
<text x="490" y="324.3" font-size="8.9" text-anchor="middle" fill="#2a2a2a" >1.0</text>
<rect x="481.15" y="294.6" width="17.7" height="16.8" fill="#fff" stroke="#6e6e6e" stroke-width="0.75"/>
<text x="490" y="306.2" font-size="8.9" text-anchor="middle" fill="#1e1e1e" >DT</text>
<rect x="579" y="347.7" width="25.4" height="16.8" fill="#fff" stroke="#6e6e6e" stroke-width="0.75"/>
<text x="591.7" y="359.3" font-size="8.9" text-anchor="middle" fill="#1e1e1e" >DNN</text>
<rect x="579" y="453.8" width="26" height="16.8" fill="#fff" stroke="#6e6e6e" stroke-width="0.75"/>
<text x="592" y="465.4" font-size="8.9" text-anchor="middle" fill="#1e1e1e" >RDG</text>
<rect x="481.2" y="506.5" width="17.6" height="16.8" fill="#fff" stroke="#6e6e6e" stroke-width="0.75"/>
<text x="490" y="518.1" font-size="8.9" text-anchor="middle" fill="#1e1e1e" >RF</text>
<rect x="376.6" y="454.2" width="24.4" height="16.8" fill="#fff" stroke="#6e6e6e" stroke-width="0.75"/>
<text x="388.8" y="465.8" font-size="8.9" text-anchor="middle" fill="#1e1e1e" >SVR</text>
<rect x="376.6" y="347.8" width="24.4" height="16.8" fill="#fff" stroke="#6e6e6e" stroke-width="0.75"/>
<text x="388.8" y="359.4" font-size="8.9" text-anchor="middle" fill="#1e1e1e" >XGB</text>
<rect x="612.4" y="294.4" width="71.2" height="67.9" fill="#fff" stroke="#777" stroke-width="0.8"/>
<line x1="615.1" y1="301.9" x2="641.6" y2="301.9" stroke="#8DB9E3" stroke-width="1.5"/>
<circle cx="628.3" cy="301.9" r="3.0" fill="#8DB9E3"/>
<text x="643.9" y="305.3" font-size="8.2" fill="#222">R<tspan font-size="6.6" dy="-4">2</tspan></text>
<line x1="615.1" y1="313.4" x2="641.6" y2="313.4" stroke="#0F6DBC" stroke-width="1.7" stroke-dasharray="1.1 0.9"/>
<circle cx="628.3" cy="313.4" r="3.0" fill="#0F6DBC"/>
<text x="643.9" y="316.8" font-size="8.2" fill="#222">Pearson R</text>
<line x1="615.1" y1="324.4" x2="641.6" y2="324.4" stroke="#2BB39B" stroke-width="1.1"/>
<circle cx="628.3" cy="324.4" r="3.0" fill="#2BB39B"/>
<text x="643.9" y="327.8" font-size="8.2" fill="#222">MAE</text>
<line x1="615.1" y1="335.0" x2="641.6" y2="335.0" stroke="#E8262E" stroke-width="1.2" stroke-dasharray="3.4 1.2 1 1.2"/>
<circle cx="628.3" cy="335.0" r="3.0" fill="#E8262E"/>
<text x="643.9" y="338.4" font-size="8.2" fill="#222">RMSE</text>
<line x1="615.1" y1="345.7" x2="641.6" y2="345.7" stroke="#B4491F" stroke-width="1.2" stroke-dasharray="3.6 2.6"/>
<circle cx="628.3" cy="345.7" r="3.0" fill="#B4491F"/>
<text x="643.9" y="349.1" font-size="8.2" fill="#222">SMAPE</text>
<line x1="615.1" y1="356.1" x2="641.6" y2="356.1" stroke="#EBAA2B" stroke-width="3.0"/>
<circle cx="628.3" cy="356.1" r="3.4" fill="#EBAA2B"/>
<text x="643.9" y="359.5" font-size="8.2" fill="#222">ref indx</text>
<text x="644.1" y="501.1" font-size="17.5" fill="#111">(d)</text>
</g>
</svg>
</body></html>
